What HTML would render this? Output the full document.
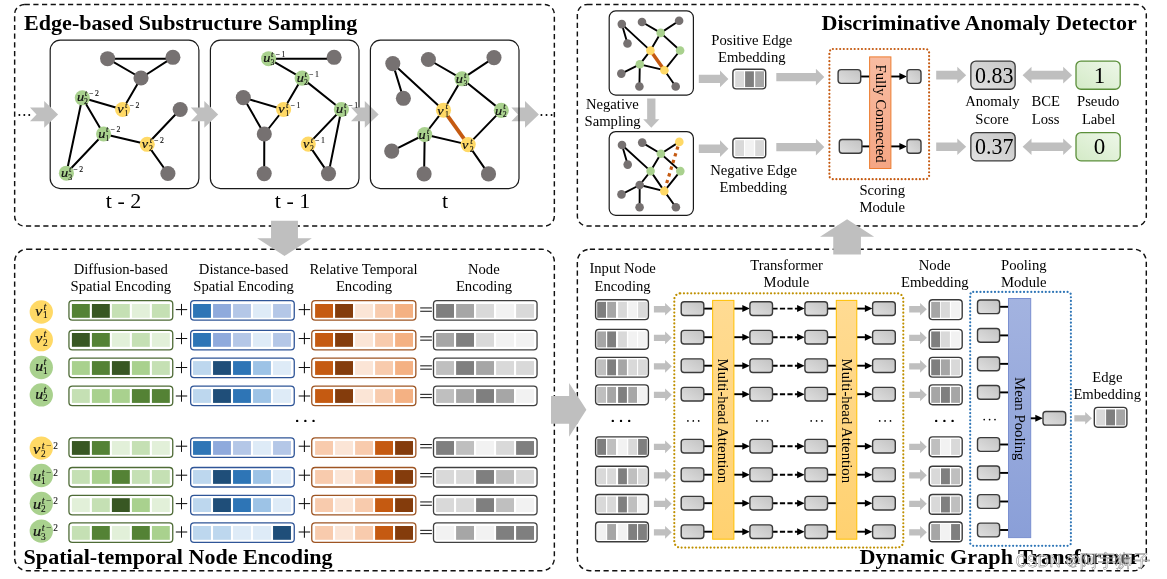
<!DOCTYPE html>
<html lang="en"><head><meta charset="utf-8"><title>Framework overview</title>
<style>html,body{margin:0;padding:0;background:#fff;}body{width:1167px;height:579px;overflow:hidden;}svg{display:block;font-family:'Liberation Serif', 'Noto Serif CJK SC', serif;}</style></head><body>
<svg width="1167" height="579" viewBox="0 0 1167 579">
<defs><linearGradient id="gbox" x1="0" y1="1" x2="1" y2="0"><stop offset="0" stop-color="#E0E0E0"/><stop offset="1" stop-color="#C2C2C2"/></linearGradient><linearGradient id="gscore" x1="0" y1="1" x2="1" y2="0"><stop offset="0" stop-color="#E2E2E2"/><stop offset="1" stop-color="#C6C6C6"/></linearGradient><linearGradient id="glabel" x1="0" y1="1" x2="1" y2="0"><stop offset="0" stop-color="#D3EAC6"/><stop offset="1" stop-color="#EEF7E9"/></linearGradient><linearGradient id="gyel" x1="0" y1="0" x2="0" y2="1"><stop offset="0" stop-color="#FFDB93"/><stop offset="1" stop-color="#FFD170"/></linearGradient><linearGradient id="gblue" x1="0" y1="0" x2="0" y2="1"><stop offset="0" stop-color="#A3B3E0"/><stop offset="1" stop-color="#8A9FD8"/></linearGradient><linearGradient id="gfc" x1="0" y1="0" x2="0" y2="1"><stop offset="0" stop-color="#F8BCA2"/><stop offset="1" stop-color="#F5A684"/></linearGradient></defs>
<rect x="0" y="0" width="1167" height="579" fill="#fff" />
<rect x="14.65" y="4.4" width="539.7" height="221.7" rx="10" ry="10" fill="none" stroke="#111" stroke-width="1.45" stroke-dasharray="5.2 3.47"/>
<rect x="577.35" y="4.4" width="568.95" height="221.7" rx="10" ry="10" fill="none" stroke="#111" stroke-width="1.45" stroke-dasharray="5.2 3.47"/>
<rect x="14.65" y="249.2" width="539.7" height="321.5" rx="12.5" ry="12.5" fill="none" stroke="#111" stroke-width="1.45" stroke-dasharray="5.2 3.47"/>
<rect x="577.35" y="249.2" width="568.95" height="321.5" rx="12.5" ry="12.5" fill="none" stroke="#111" stroke-width="1.45" stroke-dasharray="5.2 3.47"/>
<polygon points="271.05,220.7 297.95,220.7 297.95,238.2 311.85,238.2 284.5,255.9 257.15,238.2 271.05,238.2" fill="#BFBFBF"/>
<polygon points="551,395.95 569.1,395.95 569.1,382.9 586.4,409.8 569.1,436.7 569.1,423.65 551,423.65" fill="#BFBFBF"/>
<polygon points="833.25,254.5 860.95,254.5 860.95,236.8 874.15,236.8 847.1,219.3 820.05,236.8 833.25,236.8" fill="#BFBFBF"/>
<text x="24.1" y="29.6" font-size="22" font-weight="bold" fill="#000" textLength="333.1" lengthAdjust="spacingAndGlyphs">Edge-based Substructure Sampling</text>
<rect x="50.2" y="40.2" width="148.7" height="148.4" rx="10" ry="10" fill="#fff" stroke="#1a1a1a" stroke-width="1.2" />
<rect x="210.4" y="40.2" width="148.6" height="148.4" rx="10" ry="10" fill="#fff" stroke="#1a1a1a" stroke-width="1.2" />
<line x1="107.6" y1="58.7" x2="141" y2="78" stroke="#000" stroke-width="2" stroke-linecap="round"/>
<line x1="172.9" y1="57.3" x2="141" y2="78" stroke="#000" stroke-width="2" stroke-linecap="round"/>
<line x1="141" y1="78" x2="122.6" y2="109.5" stroke="#000" stroke-width="2" stroke-linecap="round"/>
<line x1="82.3" y1="97.8" x2="122.6" y2="109.5" stroke="#000" stroke-width="2" stroke-linecap="round"/>
<line x1="82.3" y1="97.8" x2="103.6" y2="134" stroke="#000" stroke-width="2" stroke-linecap="round"/>
<line x1="82.3" y1="97.8" x2="66.4" y2="173.2" stroke="#000" stroke-width="2" stroke-linecap="round"/>
<line x1="103.6" y1="134" x2="66.4" y2="173.2" stroke="#000" stroke-width="2" stroke-linecap="round"/>
<line x1="103.6" y1="134" x2="147.2" y2="144.3" stroke="#000" stroke-width="2" stroke-linecap="round"/>
<line x1="147.2" y1="144.3" x2="180.2" y2="109.5" stroke="#000" stroke-width="2" stroke-linecap="round"/>
<line x1="147.2" y1="144.3" x2="167.9" y2="173.5" stroke="#000" stroke-width="2" stroke-linecap="round"/>
<line x1="107.6" y1="58.65" x2="172.9" y2="58.65" stroke="#000" stroke-width="2" />
<circle cx="107.6" cy="58.7" r="7.55" fill="#767171"/>
<circle cx="172.9" cy="57.3" r="7.55" fill="#767171"/>
<circle cx="141" cy="78" r="7.55" fill="#767171"/>
<circle cx="82.3" cy="97.8" r="7.55" fill="#A9D18E"/>
<circle cx="122.6" cy="109.5" r="7.55" fill="#FFD966"/>
<circle cx="180.2" cy="109.5" r="7.55" fill="#767171"/>
<circle cx="103.6" cy="134" r="7.55" fill="#A9D18E"/>
<circle cx="147.2" cy="144.3" r="7.55" fill="#FFD966"/>
<circle cx="66.4" cy="173.2" r="7.55" fill="#A9D18E"/>
<circle cx="167.9" cy="173.5" r="7.55" fill="#767171"/>
<line x1="268.6" y1="58.7" x2="302.1" y2="78.1" stroke="#000" stroke-width="2" stroke-linecap="round"/>
<line x1="302.1" y1="78.1" x2="283.6" y2="109.5" stroke="#000" stroke-width="2" stroke-linecap="round"/>
<line x1="302.1" y1="78.1" x2="341.4" y2="109.5" stroke="#000" stroke-width="2" stroke-linecap="round"/>
<line x1="243.3" y1="97.6" x2="283.6" y2="109.5" stroke="#000" stroke-width="2" stroke-linecap="round"/>
<line x1="243.3" y1="97.6" x2="264.3" y2="134" stroke="#000" stroke-width="2" stroke-linecap="round"/>
<line x1="283.6" y1="109.5" x2="264.3" y2="134" stroke="#000" stroke-width="2" stroke-linecap="round"/>
<line x1="264.3" y1="134" x2="264.2" y2="173.6" stroke="#000" stroke-width="2" stroke-linecap="round"/>
<line x1="341.4" y1="109.5" x2="308.3" y2="144.1" stroke="#000" stroke-width="2" stroke-linecap="round"/>
<line x1="341.4" y1="109.5" x2="328.5" y2="173.6" stroke="#000" stroke-width="2" stroke-linecap="round"/>
<line x1="308.3" y1="144.1" x2="328.5" y2="173.6" stroke="#000" stroke-width="2" stroke-linecap="round"/>
<line x1="268.6" y1="58.7" x2="334.1" y2="58.7" stroke="#000" stroke-width="2" />
<circle cx="268.6" cy="58.7" r="7.55" fill="#A9D18E"/>
<circle cx="334.1" cy="57.3" r="7.55" fill="#767171"/>
<circle cx="302.1" cy="78.1" r="7.55" fill="#A9D18E"/>
<circle cx="243.3" cy="97.6" r="7.55" fill="#767171"/>
<circle cx="283.6" cy="109.5" r="7.55" fill="#FFD966"/>
<circle cx="341.4" cy="109.5" r="7.55" fill="#A9D18E"/>
<circle cx="264.3" cy="134" r="7.55" fill="#767171"/>
<circle cx="308.3" cy="144.1" r="7.55" fill="#FFD966"/>
<circle cx="264.2" cy="173.6" r="7.55" fill="#767171"/>
<circle cx="328.5" cy="173.6" r="7.55" fill="#767171"/>
<line x1="392.8" y1="63.6" x2="403.4" y2="98.3" stroke="#000" stroke-width="2" stroke-linecap="round"/>
<line x1="392.8" y1="63.6" x2="443.5" y2="110.2" stroke="#000" stroke-width="2" stroke-linecap="round"/>
<line x1="428.4" y1="59.5" x2="462" y2="78.8" stroke="#000" stroke-width="2" stroke-linecap="round"/>
<line x1="494" y1="57.6" x2="462" y2="78.8" stroke="#000" stroke-width="2" stroke-linecap="round"/>
<line x1="462" y1="78.8" x2="443.5" y2="110.2" stroke="#000" stroke-width="2" stroke-linecap="round"/>
<line x1="462" y1="78.8" x2="501.3" y2="110.4" stroke="#000" stroke-width="2" stroke-linecap="round"/>
<line x1="443.5" y1="110.2" x2="424.7" y2="134.5" stroke="#000" stroke-width="2" stroke-linecap="round"/>
<line x1="501.3" y1="110.4" x2="468.2" y2="144.6" stroke="#000" stroke-width="2" stroke-linecap="round"/>
<line x1="424.7" y1="134.5" x2="468.2" y2="144.6" stroke="#000" stroke-width="2" stroke-linecap="round"/>
<line x1="424.7" y1="134.5" x2="391.7" y2="151.1" stroke="#000" stroke-width="2" stroke-linecap="round"/>
<line x1="424.7" y1="134.5" x2="424.1" y2="173.9" stroke="#000" stroke-width="2" stroke-linecap="round"/>
<line x1="468.2" y1="144.6" x2="488.5" y2="173.9" stroke="#000" stroke-width="2" stroke-linecap="round"/>
<line x1="443.5" y1="110.2" x2="468.2" y2="144.6" stroke="#C55A11" stroke-width="3.8" />
<circle cx="392.8" cy="63.6" r="7.55" fill="#767171"/>
<circle cx="428.4" cy="59.5" r="7.55" fill="#767171"/>
<circle cx="494" cy="57.6" r="7.55" fill="#767171"/>
<circle cx="462" cy="78.8" r="7.55" fill="#A9D18E"/>
<circle cx="403.4" cy="98.3" r="7.55" fill="#767171"/>
<circle cx="443.5" cy="110.2" r="7.55" fill="#FFD966"/>
<circle cx="501.3" cy="110.4" r="7.55" fill="#A9D18E"/>
<circle cx="424.7" cy="134.5" r="7.55" fill="#A9D18E"/>
<circle cx="468.2" cy="144.6" r="7.55" fill="#FFD966"/>
<circle cx="391.7" cy="151.1" r="7.55" fill="#767171"/>
<circle cx="424.1" cy="173.9" r="7.55" fill="#767171"/>
<circle cx="488.5" cy="173.9" r="7.55" fill="#767171"/>
<polygon points="30,107.5 44.2,107.5 44.2,101 58.1,114.4 44.2,127.8 44.2,121.3 30,121.3 36.5,114.4" fill="#BFBFBF"/>
<polygon points="190.8,107.5 204.3,107.5 204.3,101 218.2,114.4 204.3,127.8 204.3,121.3 190.8,121.3 197.3,114.4" fill="#BFBFBF"/>
<polygon points="351,107.5 364.8,107.5 364.8,101 378.7,114.4 364.8,127.8 364.8,121.3 351,121.3 357.5,114.4" fill="#BFBFBF"/>
<polygon points="511.4,107.5 525,107.5 525,101 538.9,114.4 525,127.8 525,121.3 511.4,121.3 517.9,114.4" fill="#BFBFBF"/>
<rect x="370.4" y="40.2" width="148.6" height="148.4" rx="10" ry="10" fill="none" stroke="#1a1a1a" stroke-width="1.2" />
<circle cx="19.35" cy="115" r="1" fill="#000"/>
<circle cx="24.3" cy="115" r="1" fill="#000"/>
<circle cx="29.25" cy="115" r="1" fill="#000"/>
<circle cx="541.45" cy="115" r="1" fill="#000"/>
<circle cx="546.5" cy="115" r="1" fill="#000"/>
<circle cx="551.55" cy="115" r="1" fill="#000"/>
<text x="76.9" y="101.3" font-size="12.8" font-style="italic" fill="#111" stroke="#111" stroke-width="0.22" textLength="7.17" lengthAdjust="spacingAndGlyphs">u</text>
<text x="84.8" y="96.2" font-size="8.6" font-style="italic" fill="#111" stroke="#111" stroke-width="0.12">t</text>
<text x="89.1" y="96.2" font-size="7.8" font-style="normal" fill="#111" stroke="#111" stroke-width="0.12">−</text>
<text x="95.1" y="96.2" font-size="7.8" font-style="normal" fill="#111" stroke="#111" stroke-width="0.12">2</text>
<text x="84.1" y="104.3" font-size="7.8" font-style="normal" fill="#111" stroke="#111" stroke-width="0.12">2</text>
<text x="117.2" y="113" font-size="12.8" font-style="italic" fill="#111" stroke="#111" stroke-width="0.22" textLength="6.37" lengthAdjust="spacingAndGlyphs">v</text>
<text x="125.1" y="107.9" font-size="8.6" font-style="italic" fill="#111" stroke="#111" stroke-width="0.12">t</text>
<text x="129.4" y="107.9" font-size="7.8" font-style="normal" fill="#111" stroke="#111" stroke-width="0.12">−</text>
<text x="135.4" y="107.9" font-size="7.8" font-style="normal" fill="#111" stroke="#111" stroke-width="0.12">2</text>
<text x="124.4" y="116" font-size="7.8" font-style="normal" fill="#111" stroke="#111" stroke-width="0.12">1</text>
<text x="98.2" y="137.5" font-size="12.8" font-style="italic" fill="#111" stroke="#111" stroke-width="0.22" textLength="7.17" lengthAdjust="spacingAndGlyphs">u</text>
<text x="106.1" y="132.4" font-size="8.6" font-style="italic" fill="#111" stroke="#111" stroke-width="0.12">t</text>
<text x="110.4" y="132.4" font-size="7.8" font-style="normal" fill="#111" stroke="#111" stroke-width="0.12">−</text>
<text x="116.4" y="132.4" font-size="7.8" font-style="normal" fill="#111" stroke="#111" stroke-width="0.12">2</text>
<text x="105.4" y="140.5" font-size="7.8" font-style="normal" fill="#111" stroke="#111" stroke-width="0.12">1</text>
<text x="141.8" y="147.8" font-size="12.8" font-style="italic" fill="#111" stroke="#111" stroke-width="0.22" textLength="6.37" lengthAdjust="spacingAndGlyphs">v</text>
<text x="149.7" y="142.7" font-size="8.6" font-style="italic" fill="#111" stroke="#111" stroke-width="0.12">t</text>
<text x="154" y="142.7" font-size="7.8" font-style="normal" fill="#111" stroke="#111" stroke-width="0.12">−</text>
<text x="160" y="142.7" font-size="7.8" font-style="normal" fill="#111" stroke="#111" stroke-width="0.12">2</text>
<text x="149" y="150.8" font-size="7.8" font-style="normal" fill="#111" stroke="#111" stroke-width="0.12">2</text>
<text x="61" y="176.7" font-size="12.8" font-style="italic" fill="#111" stroke="#111" stroke-width="0.22" textLength="7.17" lengthAdjust="spacingAndGlyphs">u</text>
<text x="68.9" y="171.6" font-size="8.6" font-style="italic" fill="#111" stroke="#111" stroke-width="0.12">t</text>
<text x="73.2" y="171.6" font-size="7.8" font-style="normal" fill="#111" stroke="#111" stroke-width="0.12">−</text>
<text x="79.2" y="171.6" font-size="7.8" font-style="normal" fill="#111" stroke="#111" stroke-width="0.12">2</text>
<text x="68.2" y="179.7" font-size="7.8" font-style="normal" fill="#111" stroke="#111" stroke-width="0.12">3</text>
<text x="263.2" y="62.2" font-size="12.8" font-style="italic" fill="#111" stroke="#111" stroke-width="0.22" textLength="7.17" lengthAdjust="spacingAndGlyphs">u</text>
<text x="271.1" y="57.1" font-size="8.6" font-style="italic" fill="#111" stroke="#111" stroke-width="0.12">t</text>
<text x="275.4" y="57.1" font-size="7.8" font-style="normal" fill="#111" stroke="#111" stroke-width="0.12">−</text>
<text x="281.4" y="57.1" font-size="7.8" font-style="normal" fill="#111" stroke="#111" stroke-width="0.12">1</text>
<text x="270.4" y="65.2" font-size="7.8" font-style="normal" fill="#111" stroke="#111" stroke-width="0.12">3</text>
<text x="296.7" y="81.6" font-size="12.8" font-style="italic" fill="#111" stroke="#111" stroke-width="0.22" textLength="7.17" lengthAdjust="spacingAndGlyphs">u</text>
<text x="304.6" y="76.5" font-size="8.6" font-style="italic" fill="#111" stroke="#111" stroke-width="0.12">t</text>
<text x="308.9" y="76.5" font-size="7.8" font-style="normal" fill="#111" stroke="#111" stroke-width="0.12">−</text>
<text x="314.9" y="76.5" font-size="7.8" font-style="normal" fill="#111" stroke="#111" stroke-width="0.12">1</text>
<text x="303.9" y="84.6" font-size="7.8" font-style="normal" fill="#111" stroke="#111" stroke-width="0.12">2</text>
<text x="278.2" y="113" font-size="12.8" font-style="italic" fill="#111" stroke="#111" stroke-width="0.22" textLength="6.37" lengthAdjust="spacingAndGlyphs">v</text>
<text x="286.1" y="107.9" font-size="8.6" font-style="italic" fill="#111" stroke="#111" stroke-width="0.12">t</text>
<text x="290.4" y="107.9" font-size="7.8" font-style="normal" fill="#111" stroke="#111" stroke-width="0.12">−</text>
<text x="296.4" y="107.9" font-size="7.8" font-style="normal" fill="#111" stroke="#111" stroke-width="0.12">1</text>
<text x="285.4" y="116" font-size="7.8" font-style="normal" fill="#111" stroke="#111" stroke-width="0.12">1</text>
<text x="336" y="113" font-size="12.8" font-style="italic" fill="#111" stroke="#111" stroke-width="0.22" textLength="7.17" lengthAdjust="spacingAndGlyphs">u</text>
<text x="343.9" y="107.9" font-size="8.6" font-style="italic" fill="#111" stroke="#111" stroke-width="0.12">t</text>
<text x="348.2" y="107.9" font-size="7.8" font-style="normal" fill="#111" stroke="#111" stroke-width="0.12">−</text>
<text x="354.2" y="107.9" font-size="7.8" font-style="normal" fill="#111" stroke="#111" stroke-width="0.12">1</text>
<text x="343.2" y="116" font-size="7.8" font-style="normal" fill="#111" stroke="#111" stroke-width="0.12">1</text>
<text x="302.9" y="147.6" font-size="12.8" font-style="italic" fill="#111" stroke="#111" stroke-width="0.22" textLength="6.37" lengthAdjust="spacingAndGlyphs">v</text>
<text x="310.8" y="142.5" font-size="8.6" font-style="italic" fill="#111" stroke="#111" stroke-width="0.12">t</text>
<text x="315.1" y="142.5" font-size="7.8" font-style="normal" fill="#111" stroke="#111" stroke-width="0.12">−</text>
<text x="321.1" y="142.5" font-size="7.8" font-style="normal" fill="#111" stroke="#111" stroke-width="0.12">1</text>
<text x="310.1" y="150.6" font-size="7.8" font-style="normal" fill="#111" stroke="#111" stroke-width="0.12">2</text>
<text x="455.7" y="83.3" font-size="12.8" font-style="italic" fill="#111" stroke="#111" stroke-width="0.22" textLength="7.17" lengthAdjust="spacingAndGlyphs">u</text>
<text x="464" y="77.8" font-size="8.6" font-style="italic" fill="#111" stroke="#111" stroke-width="0.12">t</text>
<text x="463.5" y="85.7" font-size="7.8" font-style="normal" fill="#111" stroke="#111" stroke-width="0.12">3</text>
<text x="437.2" y="114.7" font-size="12.8" font-style="italic" fill="#111" stroke="#111" stroke-width="0.22" textLength="6.37" lengthAdjust="spacingAndGlyphs">v</text>
<text x="445.5" y="109.2" font-size="8.6" font-style="italic" fill="#111" stroke="#111" stroke-width="0.12">t</text>
<text x="445" y="117.1" font-size="7.8" font-style="normal" fill="#111" stroke="#111" stroke-width="0.12">1</text>
<text x="495" y="114.9" font-size="12.8" font-style="italic" fill="#111" stroke="#111" stroke-width="0.22" textLength="7.17" lengthAdjust="spacingAndGlyphs">u</text>
<text x="503.3" y="109.4" font-size="8.6" font-style="italic" fill="#111" stroke="#111" stroke-width="0.12">t</text>
<text x="502.8" y="117.3" font-size="7.8" font-style="normal" fill="#111" stroke="#111" stroke-width="0.12">2</text>
<text x="418.4" y="139" font-size="12.8" font-style="italic" fill="#111" stroke="#111" stroke-width="0.22" textLength="7.17" lengthAdjust="spacingAndGlyphs">u</text>
<text x="426.7" y="133.5" font-size="8.6" font-style="italic" fill="#111" stroke="#111" stroke-width="0.12">t</text>
<text x="426.2" y="141.4" font-size="7.8" font-style="normal" fill="#111" stroke="#111" stroke-width="0.12">1</text>
<text x="461.9" y="149.1" font-size="12.8" font-style="italic" fill="#111" stroke="#111" stroke-width="0.22" textLength="6.37" lengthAdjust="spacingAndGlyphs">v</text>
<text x="470.2" y="143.6" font-size="8.6" font-style="italic" fill="#111" stroke="#111" stroke-width="0.12">t</text>
<text x="469.7" y="151.5" font-size="7.8" font-style="normal" fill="#111" stroke="#111" stroke-width="0.12">2</text>
<text x="123.6" y="207.8" font-size="22" text-anchor="middle" font-weight="normal" font-style="normal" fill="#000" >t - 2</text>
<text x="292.5" y="207.8" font-size="22" text-anchor="middle" font-weight="normal" font-style="normal" fill="#000" >t - 1</text>
<text x="445" y="207.8" font-size="22" text-anchor="middle" font-weight="normal" font-style="normal" fill="#000" >t</text>
<text x="23.6" y="563.8" font-size="22" font-weight="bold" fill="#000" textLength="309" lengthAdjust="spacingAndGlyphs">Spatial-temporal Node Encoding</text>
<text x="120.8" y="273.6" font-size="14.67" text-anchor="middle" font-weight="normal" font-style="normal" fill="#000" >Diffusion-based</text>
<text x="120.8" y="291" font-size="14.67" text-anchor="middle" font-weight="normal" font-style="normal" fill="#000" >Spatial Encoding</text>
<text x="243.6" y="273.6" font-size="14.67" text-anchor="middle" font-weight="normal" font-style="normal" fill="#000" >Distance-based</text>
<text x="243.6" y="291" font-size="14.67" text-anchor="middle" font-weight="normal" font-style="normal" fill="#000" >Spatial Encoding</text>
<text x="363.6" y="273.6" font-size="14.67" text-anchor="middle" font-weight="normal" font-style="normal" fill="#000" >Relative Temporal</text>
<text x="364" y="291" font-size="14.67" text-anchor="middle" font-weight="normal" font-style="normal" fill="#000" >Encoding</text>
<text x="483.8" y="273.6" font-size="14.67" text-anchor="middle" font-weight="normal" font-style="normal" fill="#000" >Node</text>
<text x="484" y="291" font-size="14.67" text-anchor="middle" font-weight="normal" font-style="normal" fill="#000" >Encoding</text>
<circle cx="41.3" cy="312" r="11.65" fill="#FFD966"/>
<text x="35.3" y="315.6" font-size="14.2" font-style="italic" fill="#111" stroke="#111" stroke-width="0.22" textLength="7.06" lengthAdjust="spacingAndGlyphs">v</text>
<text x="43.5" y="309.7" font-size="10.4" font-style="italic" fill="#111" stroke="#111" stroke-width="0.12">t</text>
<text x="43" y="318.3" font-size="9.3" font-style="normal" fill="#111" stroke="#111" stroke-width="0.12">1</text>
<rect x="68.95" y="300.7" width="103.8" height="19.5" rx="3.4" ry="3.4" fill="#fff" stroke="#4E6B36" stroke-width="1.3" />
<rect x="71.9" y="304" width="17.9" height="13.8" fill="#548235" />
<rect x="91.9" y="304" width="17.9" height="13.8" fill="#385723" />
<rect x="111.9" y="304" width="17.9" height="13.8" fill="#C5E0B4" />
<rect x="131.9" y="304" width="17.9" height="13.8" fill="#E2F0D9" />
<rect x="151.9" y="304" width="17.9" height="13.8" fill="#C5E0B4" />
<line x1="175.8" y1="309.6" x2="187.2" y2="309.6" stroke="#111" stroke-width="1.05" />
<line x1="181.5" y1="303.9" x2="181.5" y2="315.3" stroke="#111" stroke-width="1.05" />
<rect x="190.65" y="300.7" width="103.6" height="19.5" rx="3.4" ry="3.4" fill="#fff" stroke="#2F5597" stroke-width="1.3" />
<rect x="193.05" y="304" width="17.9" height="13.8" fill="#2E75B6" />
<rect x="213.05" y="304" width="17.9" height="13.8" fill="#8FAADC" />
<rect x="233.05" y="304" width="17.9" height="13.8" fill="#B4C7E7" />
<rect x="253.05" y="304" width="17.9" height="13.8" fill="#DEEBF7" />
<rect x="273.05" y="304" width="17.9" height="13.8" fill="#B4C7E7" />
<line x1="298.7" y1="309.6" x2="310.1" y2="309.6" stroke="#111" stroke-width="1.05" />
<line x1="304.4" y1="303.9" x2="304.4" y2="315.3" stroke="#111" stroke-width="1.05" />
<rect x="311.75" y="300.7" width="104.1" height="19.5" rx="3.4" ry="3.4" fill="#fff" stroke="#9E5523" stroke-width="1.3" />
<rect x="315.1" y="304" width="17.9" height="13.8" fill="#C55A11" />
<rect x="335.1" y="304" width="17.9" height="13.8" fill="#843C0C" />
<rect x="355.1" y="304" width="17.9" height="13.8" fill="#FBE5D6" />
<rect x="375.1" y="304" width="17.9" height="13.8" fill="#F8CBAD" />
<rect x="395.1" y="304" width="17.9" height="13.8" fill="#F4B183" />
<line x1="420.2" y1="307.95" x2="431.9" y2="307.95" stroke="#111" stroke-width="1" />
<line x1="420.2" y1="311.25" x2="431.9" y2="311.25" stroke="#111" stroke-width="1" />
<rect x="433.5" y="300.7" width="103.55" height="19.5" rx="3.4" ry="3.4" fill="#fff" stroke="#404040" stroke-width="1.3" />
<rect x="436.1" y="304" width="17.9" height="13.8" fill="#7F7F7F" />
<rect x="456.1" y="304" width="17.9" height="13.8" fill="#A6A6A6" />
<rect x="476.1" y="304" width="17.9" height="13.8" fill="#D9D9D9" />
<rect x="496.1" y="304" width="17.9" height="13.8" fill="#F2F2F2" />
<rect x="516.1" y="304" width="17.9" height="13.8" fill="#D9D9D9" />
<circle cx="41.3" cy="339.7" r="11.65" fill="#FFD966"/>
<text x="35.3" y="343.3" font-size="14.2" font-style="italic" fill="#111" stroke="#111" stroke-width="0.22" textLength="7.06" lengthAdjust="spacingAndGlyphs">v</text>
<text x="43.5" y="337.4" font-size="10.4" font-style="italic" fill="#111" stroke="#111" stroke-width="0.12">t</text>
<text x="43" y="346" font-size="9.3" font-style="normal" fill="#111" stroke="#111" stroke-width="0.12">2</text>
<rect x="68.95" y="330.4" width="103.8" height="19.5" rx="3.4" ry="3.4" fill="#fff" stroke="#4E6B36" stroke-width="1.3" />
<rect x="71.9" y="333" width="17.9" height="13.8" fill="#385723" />
<rect x="91.9" y="333" width="17.9" height="13.8" fill="#548235" />
<rect x="111.9" y="333" width="17.9" height="13.8" fill="#E2F0D9" />
<rect x="131.9" y="333" width="17.9" height="13.8" fill="#C5E0B4" />
<rect x="151.9" y="333" width="17.9" height="13.8" fill="#E2F0D9" />
<line x1="175.8" y1="338.5" x2="187.2" y2="338.5" stroke="#111" stroke-width="1.05" />
<line x1="181.5" y1="332.8" x2="181.5" y2="344.2" stroke="#111" stroke-width="1.05" />
<rect x="190.65" y="330.4" width="103.6" height="19.5" rx="3.4" ry="3.4" fill="#fff" stroke="#2F5597" stroke-width="1.3" />
<rect x="193.05" y="333" width="17.9" height="13.8" fill="#2E75B6" />
<rect x="213.05" y="333" width="17.9" height="13.8" fill="#8FAADC" />
<rect x="233.05" y="333" width="17.9" height="13.8" fill="#B4C7E7" />
<rect x="253.05" y="333" width="17.9" height="13.8" fill="#DEEBF7" />
<rect x="273.05" y="333" width="17.9" height="13.8" fill="#B4C7E7" />
<line x1="298.7" y1="338.5" x2="310.1" y2="338.5" stroke="#111" stroke-width="1.05" />
<line x1="304.4" y1="332.8" x2="304.4" y2="344.2" stroke="#111" stroke-width="1.05" />
<rect x="311.75" y="330.4" width="104.1" height="19.5" rx="3.4" ry="3.4" fill="#fff" stroke="#9E5523" stroke-width="1.3" />
<rect x="315.1" y="333" width="17.9" height="13.8" fill="#C55A11" />
<rect x="335.1" y="333" width="17.9" height="13.8" fill="#843C0C" />
<rect x="355.1" y="333" width="17.9" height="13.8" fill="#FBE5D6" />
<rect x="375.1" y="333" width="17.9" height="13.8" fill="#F8CBAD" />
<rect x="395.1" y="333" width="17.9" height="13.8" fill="#F4B183" />
<line x1="420.2" y1="336.85" x2="431.9" y2="336.85" stroke="#111" stroke-width="1" />
<line x1="420.2" y1="340.15" x2="431.9" y2="340.15" stroke="#111" stroke-width="1" />
<rect x="433.5" y="330.4" width="103.55" height="19.5" rx="3.4" ry="3.4" fill="#fff" stroke="#404040" stroke-width="1.3" />
<rect x="436.1" y="333" width="17.9" height="13.8" fill="#A6A6A6" />
<rect x="456.1" y="333" width="17.9" height="13.8" fill="#7F7F7F" />
<rect x="476.1" y="333" width="17.9" height="13.8" fill="#D9D9D9" />
<rect x="496.1" y="333" width="17.9" height="13.8" fill="#F2F2F2" />
<rect x="516.1" y="333" width="17.9" height="13.8" fill="#F2F2F2" />
<circle cx="41.3" cy="367.5" r="11.65" fill="#A9D18E"/>
<text x="35.3" y="371.1" font-size="14.2" font-style="italic" fill="#111" stroke="#111" stroke-width="0.22" textLength="7.95" lengthAdjust="spacingAndGlyphs">u</text>
<text x="43.5" y="365.2" font-size="10.4" font-style="italic" fill="#111" stroke="#111" stroke-width="0.12">t</text>
<text x="43" y="373.8" font-size="9.3" font-style="normal" fill="#111" stroke="#111" stroke-width="0.12">1</text>
<rect x="68.95" y="358.2" width="103.8" height="19.5" rx="3.4" ry="3.4" fill="#fff" stroke="#4E6B36" stroke-width="1.3" />
<rect x="71.9" y="361.1" width="17.9" height="13.8" fill="#A9D18E" />
<rect x="91.9" y="361.1" width="17.9" height="13.8" fill="#548235" />
<rect x="111.9" y="361.1" width="17.9" height="13.8" fill="#385723" />
<rect x="131.9" y="361.1" width="17.9" height="13.8" fill="#A9D18E" />
<rect x="151.9" y="361.1" width="17.9" height="13.8" fill="#C5E0B4" />
<line x1="175.8" y1="367.5" x2="187.2" y2="367.5" stroke="#111" stroke-width="1.05" />
<line x1="181.5" y1="361.8" x2="181.5" y2="373.2" stroke="#111" stroke-width="1.05" />
<rect x="190.65" y="358.2" width="103.6" height="19.5" rx="3.4" ry="3.4" fill="#fff" stroke="#2F5597" stroke-width="1.3" />
<rect x="193.05" y="361.1" width="17.9" height="13.8" fill="#BDD7EE" />
<rect x="213.05" y="361.1" width="17.9" height="13.8" fill="#1F4E79" />
<rect x="233.05" y="361.1" width="17.9" height="13.8" fill="#2E75B6" />
<rect x="253.05" y="361.1" width="17.9" height="13.8" fill="#9DC3E6" />
<rect x="273.05" y="361.1" width="17.9" height="13.8" fill="#DEEBF7" />
<line x1="298.7" y1="367.5" x2="310.1" y2="367.5" stroke="#111" stroke-width="1.05" />
<line x1="304.4" y1="361.8" x2="304.4" y2="373.2" stroke="#111" stroke-width="1.05" />
<rect x="311.75" y="358.2" width="104.1" height="19.5" rx="3.4" ry="3.4" fill="#fff" stroke="#9E5523" stroke-width="1.3" />
<rect x="315.1" y="361.1" width="17.9" height="13.8" fill="#C55A11" />
<rect x="335.1" y="361.1" width="17.9" height="13.8" fill="#843C0C" />
<rect x="355.1" y="361.1" width="17.9" height="13.8" fill="#FBE5D6" />
<rect x="375.1" y="361.1" width="17.9" height="13.8" fill="#F8CBAD" />
<rect x="395.1" y="361.1" width="17.9" height="13.8" fill="#F4B183" />
<line x1="420.2" y1="365.85" x2="431.9" y2="365.85" stroke="#111" stroke-width="1" />
<line x1="420.2" y1="369.15" x2="431.9" y2="369.15" stroke="#111" stroke-width="1" />
<rect x="433.5" y="358.2" width="103.55" height="19.5" rx="3.4" ry="3.4" fill="#fff" stroke="#404040" stroke-width="1.3" />
<rect x="436.1" y="361.1" width="17.9" height="13.8" fill="#BFBFBF" />
<rect x="456.1" y="361.1" width="17.9" height="13.8" fill="#7F7F7F" />
<rect x="476.1" y="361.1" width="17.9" height="13.8" fill="#A6A6A6" />
<rect x="496.1" y="361.1" width="17.9" height="13.8" fill="#D9D9D9" />
<rect x="516.1" y="361.1" width="17.9" height="13.8" fill="#D9D9D9" />
<circle cx="41.3" cy="394.9" r="11.65" fill="#A9D18E"/>
<text x="35.3" y="398.5" font-size="14.2" font-style="italic" fill="#111" stroke="#111" stroke-width="0.22" textLength="7.95" lengthAdjust="spacingAndGlyphs">u</text>
<text x="43.5" y="392.6" font-size="10.4" font-style="italic" fill="#111" stroke="#111" stroke-width="0.12">t</text>
<text x="43" y="401.2" font-size="9.3" font-style="normal" fill="#111" stroke="#111" stroke-width="0.12">2</text>
<rect x="68.95" y="386.2" width="103.8" height="19.5" rx="3.4" ry="3.4" fill="#fff" stroke="#4E6B36" stroke-width="1.3" />
<rect x="71.9" y="389.1" width="17.9" height="13.8" fill="#C5E0B4" />
<rect x="91.9" y="389.1" width="17.9" height="13.8" fill="#A9D18E" />
<rect x="111.9" y="389.1" width="17.9" height="13.8" fill="#A9D18E" />
<rect x="131.9" y="389.1" width="17.9" height="13.8" fill="#548235" />
<rect x="151.9" y="389.1" width="17.9" height="13.8" fill="#548235" />
<line x1="175.8" y1="396" x2="187.2" y2="396" stroke="#111" stroke-width="1.05" />
<line x1="181.5" y1="390.3" x2="181.5" y2="401.7" stroke="#111" stroke-width="1.05" />
<rect x="190.65" y="386.2" width="103.6" height="19.5" rx="3.4" ry="3.4" fill="#fff" stroke="#2F5597" stroke-width="1.3" />
<rect x="193.05" y="389.1" width="17.9" height="13.8" fill="#BDD7EE" />
<rect x="213.05" y="389.1" width="17.9" height="13.8" fill="#1F4E79" />
<rect x="233.05" y="389.1" width="17.9" height="13.8" fill="#2E75B6" />
<rect x="253.05" y="389.1" width="17.9" height="13.8" fill="#9DC3E6" />
<rect x="273.05" y="389.1" width="17.9" height="13.8" fill="#DEEBF7" />
<line x1="298.7" y1="396" x2="310.1" y2="396" stroke="#111" stroke-width="1.05" />
<line x1="304.4" y1="390.3" x2="304.4" y2="401.7" stroke="#111" stroke-width="1.05" />
<rect x="311.75" y="386.2" width="104.1" height="19.5" rx="3.4" ry="3.4" fill="#fff" stroke="#9E5523" stroke-width="1.3" />
<rect x="315.1" y="389.1" width="17.9" height="13.8" fill="#C55A11" />
<rect x="335.1" y="389.1" width="17.9" height="13.8" fill="#843C0C" />
<rect x="355.1" y="389.1" width="17.9" height="13.8" fill="#FBE5D6" />
<rect x="375.1" y="389.1" width="17.9" height="13.8" fill="#F8CBAD" />
<rect x="395.1" y="389.1" width="17.9" height="13.8" fill="#F4B183" />
<line x1="420.2" y1="394.35" x2="431.9" y2="394.35" stroke="#111" stroke-width="1" />
<line x1="420.2" y1="397.65" x2="431.9" y2="397.65" stroke="#111" stroke-width="1" />
<rect x="433.5" y="386.2" width="103.55" height="19.5" rx="3.4" ry="3.4" fill="#fff" stroke="#404040" stroke-width="1.3" />
<rect x="436.1" y="389.1" width="17.9" height="13.8" fill="#BFBFBF" />
<rect x="456.1" y="389.1" width="17.9" height="13.8" fill="#A6A6A6" />
<rect x="476.1" y="389.1" width="17.9" height="13.8" fill="#7F7F7F" />
<rect x="496.1" y="389.1" width="17.9" height="13.8" fill="#A6A6A6" />
<rect x="516.1" y="389.1" width="17.9" height="13.8" fill="#F2F2F2" />
<circle cx="41.3" cy="448.1" r="11.65" fill="#FFD966"/>
<text x="33" y="454.1" font-size="14.6" font-style="italic" fill="#111" stroke="#111" stroke-width="0.22" textLength="7.26" lengthAdjust="spacingAndGlyphs">v</text>
<text x="41.7" y="449.1" font-size="10.4" font-style="italic" fill="#111" stroke="#111" stroke-width="0.12">t</text>
<text x="46.1" y="449.1" font-size="9.4" font-style="normal" fill="#111" stroke="#111" stroke-width="0.12">−</text>
<text x="53.2" y="449.1" font-size="9.4" font-style="normal" fill="#111" stroke="#111" stroke-width="0.12">2</text>
<text x="40.9" y="457.4" font-size="9.4" font-style="normal" fill="#111" stroke="#111" stroke-width="0.12">2</text>
<rect x="68.95" y="437.85" width="103.8" height="19.5" rx="3.4" ry="3.4" fill="#fff" stroke="#4E6B36" stroke-width="1.3" />
<rect x="71.9" y="441.05" width="17.9" height="13.8" fill="#385723" />
<rect x="91.9" y="441.05" width="17.9" height="13.8" fill="#548235" />
<rect x="111.9" y="441.05" width="17.9" height="13.8" fill="#E2F0D9" />
<rect x="131.9" y="441.05" width="17.9" height="13.8" fill="#C5E0B4" />
<rect x="151.9" y="441.05" width="17.9" height="13.8" fill="#E2F0D9" />
<line x1="175.8" y1="446.2" x2="187.2" y2="446.2" stroke="#111" stroke-width="1.05" />
<line x1="181.5" y1="440.5" x2="181.5" y2="451.9" stroke="#111" stroke-width="1.05" />
<rect x="190.65" y="437.85" width="103.6" height="19.5" rx="3.4" ry="3.4" fill="#fff" stroke="#2F5597" stroke-width="1.3" />
<rect x="193.05" y="441.05" width="17.9" height="13.8" fill="#2E75B6" />
<rect x="213.05" y="441.05" width="17.9" height="13.8" fill="#8FAADC" />
<rect x="233.05" y="441.05" width="17.9" height="13.8" fill="#B4C7E7" />
<rect x="253.05" y="441.05" width="17.9" height="13.8" fill="#DEEBF7" />
<rect x="273.05" y="441.05" width="17.9" height="13.8" fill="#B4C7E7" />
<line x1="298.7" y1="446.2" x2="310.1" y2="446.2" stroke="#111" stroke-width="1.05" />
<line x1="304.4" y1="440.5" x2="304.4" y2="451.9" stroke="#111" stroke-width="1.05" />
<rect x="311.75" y="437.85" width="104.1" height="19.5" rx="3.4" ry="3.4" fill="#fff" stroke="#9E5523" stroke-width="1.3" />
<rect x="315.1" y="441.05" width="17.9" height="13.8" fill="#F8CBAD" />
<rect x="335.1" y="441.05" width="17.9" height="13.8" fill="#FBE5D6" />
<rect x="355.1" y="441.05" width="17.9" height="13.8" fill="#F8CBAD" />
<rect x="375.1" y="441.05" width="17.9" height="13.8" fill="#C55A11" />
<rect x="395.1" y="441.05" width="17.9" height="13.8" fill="#843C0C" />
<line x1="420.2" y1="444.55" x2="431.9" y2="444.55" stroke="#111" stroke-width="1" />
<line x1="420.2" y1="447.85" x2="431.9" y2="447.85" stroke="#111" stroke-width="1" />
<rect x="433.5" y="437.85" width="103.55" height="19.5" rx="3.4" ry="3.4" fill="#fff" stroke="#404040" stroke-width="1.3" />
<rect x="436.1" y="441.05" width="17.9" height="13.8" fill="#7F7F7F" />
<rect x="456.1" y="441.05" width="17.9" height="13.8" fill="#BFBFBF" />
<rect x="476.1" y="441.05" width="17.9" height="13.8" fill="#F2F2F2" />
<rect x="496.1" y="441.05" width="17.9" height="13.8" fill="#D9D9D9" />
<rect x="516.1" y="441.05" width="17.9" height="13.8" fill="#7F7F7F" />
<circle cx="41.3" cy="475.5" r="11.65" fill="#A9D18E"/>
<text x="33" y="480.8" font-size="14.6" font-style="italic" fill="#111" stroke="#111" stroke-width="0.22" textLength="8.18" lengthAdjust="spacingAndGlyphs">u</text>
<text x="41.7" y="475.8" font-size="10.4" font-style="italic" fill="#111" stroke="#111" stroke-width="0.12">t</text>
<text x="46.1" y="475.8" font-size="9.4" font-style="normal" fill="#111" stroke="#111" stroke-width="0.12">−</text>
<text x="53.2" y="475.8" font-size="9.4" font-style="normal" fill="#111" stroke="#111" stroke-width="0.12">2</text>
<text x="40.9" y="484.1" font-size="9.4" font-style="normal" fill="#111" stroke="#111" stroke-width="0.12">1</text>
<rect x="68.95" y="467.5" width="103.8" height="19.5" rx="3.4" ry="3.4" fill="#fff" stroke="#4E6B36" stroke-width="1.3" />
<rect x="71.9" y="470.05" width="17.9" height="13.8" fill="#C5E0B4" />
<rect x="91.9" y="470.05" width="17.9" height="13.8" fill="#A9D18E" />
<rect x="111.9" y="470.05" width="17.9" height="13.8" fill="#548235" />
<rect x="131.9" y="470.05" width="17.9" height="13.8" fill="#C5E0B4" />
<rect x="151.9" y="470.05" width="17.9" height="13.8" fill="#C5E0B4" />
<line x1="175.8" y1="475.2" x2="187.2" y2="475.2" stroke="#111" stroke-width="1.05" />
<line x1="181.5" y1="469.5" x2="181.5" y2="480.9" stroke="#111" stroke-width="1.05" />
<rect x="190.65" y="467.5" width="103.6" height="19.5" rx="3.4" ry="3.4" fill="#fff" stroke="#2F5597" stroke-width="1.3" />
<rect x="193.05" y="470.05" width="17.9" height="13.8" fill="#BDD7EE" />
<rect x="213.05" y="470.05" width="17.9" height="13.8" fill="#1F4E79" />
<rect x="233.05" y="470.05" width="17.9" height="13.8" fill="#2E75B6" />
<rect x="253.05" y="470.05" width="17.9" height="13.8" fill="#9DC3E6" />
<rect x="273.05" y="470.05" width="17.9" height="13.8" fill="#DEEBF7" />
<line x1="298.7" y1="475.2" x2="310.1" y2="475.2" stroke="#111" stroke-width="1.05" />
<line x1="304.4" y1="469.5" x2="304.4" y2="480.9" stroke="#111" stroke-width="1.05" />
<rect x="311.75" y="467.5" width="104.1" height="19.5" rx="3.4" ry="3.4" fill="#fff" stroke="#9E5523" stroke-width="1.3" />
<rect x="315.1" y="470.05" width="17.9" height="13.8" fill="#F8CBAD" />
<rect x="335.1" y="470.05" width="17.9" height="13.8" fill="#FBE5D6" />
<rect x="355.1" y="470.05" width="17.9" height="13.8" fill="#F8CBAD" />
<rect x="375.1" y="470.05" width="17.9" height="13.8" fill="#C55A11" />
<rect x="395.1" y="470.05" width="17.9" height="13.8" fill="#843C0C" />
<line x1="420.2" y1="473.55" x2="431.9" y2="473.55" stroke="#111" stroke-width="1" />
<line x1="420.2" y1="476.85" x2="431.9" y2="476.85" stroke="#111" stroke-width="1" />
<rect x="433.5" y="467.5" width="103.55" height="19.5" rx="3.4" ry="3.4" fill="#fff" stroke="#404040" stroke-width="1.3" />
<rect x="436.1" y="470.05" width="17.9" height="13.8" fill="#D9D9D9" />
<rect x="456.1" y="470.05" width="17.9" height="13.8" fill="#D9D9D9" />
<rect x="476.1" y="470.05" width="17.9" height="13.8" fill="#7F7F7F" />
<rect x="496.1" y="470.05" width="17.9" height="13.8" fill="#BFBFBF" />
<rect x="516.1" y="470.05" width="17.9" height="13.8" fill="#D9D9D9" />
<circle cx="41.3" cy="503.5" r="11.65" fill="#A9D18E"/>
<text x="33" y="508.8" font-size="14.6" font-style="italic" fill="#111" stroke="#111" stroke-width="0.22" textLength="8.18" lengthAdjust="spacingAndGlyphs">u</text>
<text x="41.7" y="503.8" font-size="10.4" font-style="italic" fill="#111" stroke="#111" stroke-width="0.12">t</text>
<text x="46.1" y="503.8" font-size="9.4" font-style="normal" fill="#111" stroke="#111" stroke-width="0.12">−</text>
<text x="53.2" y="503.8" font-size="9.4" font-style="normal" fill="#111" stroke="#111" stroke-width="0.12">2</text>
<text x="40.9" y="512.1" font-size="9.4" font-style="normal" fill="#111" stroke="#111" stroke-width="0.12">2</text>
<rect x="68.95" y="495.3" width="103.8" height="19.5" rx="3.4" ry="3.4" fill="#fff" stroke="#4E6B36" stroke-width="1.3" />
<rect x="71.9" y="498.2" width="17.9" height="13.8" fill="#E2F0D9" />
<rect x="91.9" y="498.2" width="17.9" height="13.8" fill="#C5E0B4" />
<rect x="111.9" y="498.2" width="17.9" height="13.8" fill="#385723" />
<rect x="131.9" y="498.2" width="17.9" height="13.8" fill="#A9D18E" />
<rect x="151.9" y="498.2" width="17.9" height="13.8" fill="#E2F0D9" />
<line x1="175.8" y1="503.6" x2="187.2" y2="503.6" stroke="#111" stroke-width="1.05" />
<line x1="181.5" y1="497.9" x2="181.5" y2="509.3" stroke="#111" stroke-width="1.05" />
<rect x="190.65" y="495.3" width="103.6" height="19.5" rx="3.4" ry="3.4" fill="#fff" stroke="#2F5597" stroke-width="1.3" />
<rect x="193.05" y="498.2" width="17.9" height="13.8" fill="#BDD7EE" />
<rect x="213.05" y="498.2" width="17.9" height="13.8" fill="#1F4E79" />
<rect x="233.05" y="498.2" width="17.9" height="13.8" fill="#2E75B6" />
<rect x="253.05" y="498.2" width="17.9" height="13.8" fill="#9DC3E6" />
<rect x="273.05" y="498.2" width="17.9" height="13.8" fill="#DEEBF7" />
<line x1="298.7" y1="503.6" x2="310.1" y2="503.6" stroke="#111" stroke-width="1.05" />
<line x1="304.4" y1="497.9" x2="304.4" y2="509.3" stroke="#111" stroke-width="1.05" />
<rect x="311.75" y="495.3" width="104.1" height="19.5" rx="3.4" ry="3.4" fill="#fff" stroke="#9E5523" stroke-width="1.3" />
<rect x="315.1" y="498.2" width="17.9" height="13.8" fill="#F8CBAD" />
<rect x="335.1" y="498.2" width="17.9" height="13.8" fill="#FBE5D6" />
<rect x="355.1" y="498.2" width="17.9" height="13.8" fill="#F8CBAD" />
<rect x="375.1" y="498.2" width="17.9" height="13.8" fill="#C55A11" />
<rect x="395.1" y="498.2" width="17.9" height="13.8" fill="#843C0C" />
<line x1="420.2" y1="501.95" x2="431.9" y2="501.95" stroke="#111" stroke-width="1" />
<line x1="420.2" y1="505.25" x2="431.9" y2="505.25" stroke="#111" stroke-width="1" />
<rect x="433.5" y="495.3" width="103.55" height="19.5" rx="3.4" ry="3.4" fill="#fff" stroke="#404040" stroke-width="1.3" />
<rect x="436.1" y="498.2" width="17.9" height="13.8" fill="#D9D9D9" />
<rect x="456.1" y="498.2" width="17.9" height="13.8" fill="#D9D9D9" />
<rect x="476.1" y="498.2" width="17.9" height="13.8" fill="#7F7F7F" />
<rect x="496.1" y="498.2" width="17.9" height="13.8" fill="#BFBFBF" />
<rect x="516.1" y="498.2" width="17.9" height="13.8" fill="#F2F2F2" />
<circle cx="41.3" cy="531.1" r="11.65" fill="#A9D18E"/>
<text x="33" y="536.4" font-size="14.6" font-style="italic" fill="#111" stroke="#111" stroke-width="0.22" textLength="8.18" lengthAdjust="spacingAndGlyphs">u</text>
<text x="41.7" y="531.4" font-size="10.4" font-style="italic" fill="#111" stroke="#111" stroke-width="0.12">t</text>
<text x="46.1" y="531.4" font-size="9.4" font-style="normal" fill="#111" stroke="#111" stroke-width="0.12">−</text>
<text x="53.2" y="531.4" font-size="9.4" font-style="normal" fill="#111" stroke="#111" stroke-width="0.12">2</text>
<text x="40.9" y="539.7" font-size="9.4" font-style="normal" fill="#111" stroke="#111" stroke-width="0.12">3</text>
<rect x="68.95" y="522.85" width="103.8" height="19.5" rx="3.4" ry="3.4" fill="#fff" stroke="#4E6B36" stroke-width="1.3" />
<rect x="71.9" y="526" width="17.9" height="13.8" fill="#C5E0B4" />
<rect x="91.9" y="526" width="17.9" height="13.8" fill="#548235" />
<rect x="111.9" y="526" width="17.9" height="13.8" fill="#E2F0D9" />
<rect x="131.9" y="526" width="17.9" height="13.8" fill="#548235" />
<rect x="151.9" y="526" width="17.9" height="13.8" fill="#A9D18E" />
<line x1="175.8" y1="532" x2="187.2" y2="532" stroke="#111" stroke-width="1.05" />
<line x1="181.5" y1="526.3" x2="181.5" y2="537.7" stroke="#111" stroke-width="1.05" />
<rect x="190.65" y="522.85" width="103.6" height="19.5" rx="3.4" ry="3.4" fill="#fff" stroke="#2F5597" stroke-width="1.3" />
<rect x="193.05" y="526" width="17.9" height="13.8" fill="#BDD7EE" />
<rect x="213.05" y="526" width="17.9" height="13.8" fill="#BDD7EE" />
<rect x="233.05" y="526" width="17.9" height="13.8" fill="#DEEBF7" />
<rect x="253.05" y="526" width="17.9" height="13.8" fill="#DEEBF7" />
<rect x="273.05" y="526" width="17.9" height="13.8" fill="#1F4E79" />
<line x1="298.7" y1="532" x2="310.1" y2="532" stroke="#111" stroke-width="1.05" />
<line x1="304.4" y1="526.3" x2="304.4" y2="537.7" stroke="#111" stroke-width="1.05" />
<rect x="311.75" y="522.85" width="104.1" height="19.5" rx="3.4" ry="3.4" fill="#fff" stroke="#9E5523" stroke-width="1.3" />
<rect x="315.1" y="526" width="17.9" height="13.8" fill="#F8CBAD" />
<rect x="335.1" y="526" width="17.9" height="13.8" fill="#FBE5D6" />
<rect x="355.1" y="526" width="17.9" height="13.8" fill="#F8CBAD" />
<rect x="375.1" y="526" width="17.9" height="13.8" fill="#C55A11" />
<rect x="395.1" y="526" width="17.9" height="13.8" fill="#843C0C" />
<line x1="420.2" y1="530.35" x2="431.9" y2="530.35" stroke="#111" stroke-width="1" />
<line x1="420.2" y1="533.65" x2="431.9" y2="533.65" stroke="#111" stroke-width="1" />
<rect x="433.5" y="522.85" width="103.55" height="19.5" rx="3.4" ry="3.4" fill="#fff" stroke="#404040" stroke-width="1.3" />
<rect x="436.1" y="526" width="17.9" height="13.8" fill="#F2F2F2" />
<rect x="456.1" y="526" width="17.9" height="13.8" fill="#A6A6A6" />
<rect x="476.1" y="526" width="17.9" height="13.8" fill="#F2F2F2" />
<rect x="496.1" y="526" width="17.9" height="13.8" fill="#7F7F7F" />
<rect x="516.1" y="526" width="17.9" height="13.8" fill="#7F7F7F" />
<circle cx="297.15" cy="420.9" r="1.2" fill="#000"/>
<circle cx="305.35" cy="420.9" r="1.2" fill="#000"/>
<circle cx="313.55" cy="420.9" r="1.2" fill="#000"/>
<text x="859.6" y="564.3" font-size="22" font-weight="bold" fill="#000" textLength="280" lengthAdjust="spacingAndGlyphs">Dynamic Graph Transformer</text>
<text x="622.6" y="273.2" font-size="14.67" text-anchor="middle" font-weight="normal" font-style="normal" fill="#000" >Input Node</text>
<text x="622.6" y="290.6" font-size="14.67" text-anchor="middle" font-weight="normal" font-style="normal" fill="#000" >Encoding</text>
<text x="786.6" y="270.4" font-size="14.67" text-anchor="middle" font-weight="normal" font-style="normal" fill="#000" >Transformer</text>
<text x="786.4" y="287.4" font-size="14.67" text-anchor="middle" font-weight="normal" font-style="normal" fill="#000" >Module</text>
<text x="934.6" y="270.4" font-size="14.67" text-anchor="middle" font-weight="normal" font-style="normal" fill="#000" >Node</text>
<text x="934.8" y="287.4" font-size="14.67" text-anchor="middle" font-weight="normal" font-style="normal" fill="#000" >Embedding</text>
<text x="1023.8" y="270.4" font-size="14.67" text-anchor="middle" font-weight="normal" font-style="normal" fill="#000" >Pooling</text>
<text x="1023.8" y="287.4" font-size="14.67" text-anchor="middle" font-weight="normal" font-style="normal" fill="#000" >Module</text>
<text x="1107.4" y="382" font-size="14.67" text-anchor="middle" font-weight="normal" font-style="normal" fill="#000" >Edge</text>
<text x="1107.2" y="399.4" font-size="14.67" text-anchor="middle" font-weight="normal" font-style="normal" fill="#000" >Embedding</text>
<rect x="674.3" y="293.3" width="229" height="254.3" rx="6" ry="6" fill="none" stroke="#BF9000" stroke-width="2.2" stroke-dasharray="0.01 3.62" stroke-linecap="round"/>
<rect x="970.2" y="291.9" width="100.7" height="253.9" rx="3" ry="3" fill="none" stroke="#2E75B6" stroke-width="2.2" stroke-dasharray="0.01 3.62" stroke-linecap="round"/>
<rect x="595.6" y="299.8" width="52.8" height="19.8" rx="3.4" ry="3.4" fill="#fff" stroke="#3b3b3b" stroke-width="1.4" />
<rect x="597.2" y="301.85" width="8.8" height="15.9" fill="#7F7F7F" />
<rect x="607.2" y="301.85" width="8.8" height="15.9" fill="#A6A6A6" />
<rect x="618.1" y="301.85" width="8.8" height="15.9" fill="#D9D9D9" />
<rect x="628.25" y="301.85" width="8.8" height="15.9" fill="#F2F2F2" />
<rect x="638.1" y="301.85" width="8.8" height="15.9" fill="#D9D9D9" />
<polygon points="653.9,306.1 665.1,306.1 665.1,302.95 671.8,309.25 665.1,315.55 665.1,312.4 653.9,312.4" fill="#BFBFBF"/>
<line x1="703.5" y1="308.6" x2="713" y2="308.6" stroke="#000" stroke-width="1.9" />
<line x1="734" y1="308.6" x2="745.3" y2="308.6" stroke="#000" stroke-width="1.9" />
<polygon points="742.3,305.1 749.8,308.6 742.3,312.1" fill="#000"/>
<line x1="772.4" y1="308.6" x2="800.1" y2="308.6" stroke="#000" stroke-width="1.9" stroke-dasharray="5.2 2.3"/>
<polygon points="797.1,305.1 804.6,308.6 797.1,312.1" fill="#000"/>
<line x1="827.6" y1="308.6" x2="836.5" y2="308.6" stroke="#000" stroke-width="1.9" />
<line x1="857" y1="308.6" x2="867.9" y2="308.6" stroke="#000" stroke-width="1.9" />
<polygon points="864.9,305.1 872.4,308.6 864.9,312.1" fill="#000"/>
<rect x="681.2" y="301.75" width="22.6" height="13.7" rx="3" ry="3" fill="url(#gbox)" stroke="#3b3b3b" stroke-width="1.4" />
<rect x="749.9" y="301.75" width="22.6" height="13.7" rx="3" ry="3" fill="url(#gbox)" stroke="#3b3b3b" stroke-width="1.4" />
<rect x="804.9" y="301.75" width="22.6" height="13.7" rx="3" ry="3" fill="url(#gbox)" stroke="#3b3b3b" stroke-width="1.4" />
<rect x="872.6" y="301.75" width="22.7" height="13.7" rx="3" ry="3" fill="url(#gbox)" stroke="#3b3b3b" stroke-width="1.4" />
<polygon points="909.2,306.1 920.1,306.1 920.1,302.95 926.8,309.25 920.1,315.55 920.1,312.4 909.2,312.4" fill="#BFBFBF"/>
<rect x="929.2" y="299.8" width="33" height="19.8" rx="3.4" ry="3.4" fill="#fff" stroke="#3b3b3b" stroke-width="1.4" />
<rect x="931.2" y="301.85" width="8.9" height="15.9" fill="#A6A6A6" />
<rect x="941" y="301.85" width="8.9" height="15.9" fill="#D9D9D9" />
<rect x="951.1" y="301.85" width="8.9" height="15.9" fill="#F2F2F2" />
<line x1="1000" y1="306.8" x2="1009" y2="306.8" stroke="#000" stroke-width="1.9" />
<rect x="977.5" y="299.95" width="22.1" height="13.7" rx="3" ry="3" fill="url(#gbox)" stroke="#3b3b3b" stroke-width="1.4" />
<rect x="595.6" y="329.4" width="52.8" height="19.8" rx="3.4" ry="3.4" fill="#fff" stroke="#3b3b3b" stroke-width="1.4" />
<rect x="597.2" y="331.45" width="8.8" height="15.9" fill="#A6A6A6" />
<rect x="607.2" y="331.45" width="8.8" height="15.9" fill="#7F7F7F" />
<rect x="618.1" y="331.45" width="8.8" height="15.9" fill="#D9D9D9" />
<rect x="628.25" y="331.45" width="8.8" height="15.9" fill="#F2F2F2" />
<rect x="638.1" y="331.45" width="8.8" height="15.9" fill="#F2F2F2" />
<polygon points="653.9,334.7 665.1,334.7 665.1,331.55 671.8,337.85 665.1,344.15 665.1,341 653.9,341" fill="#BFBFBF"/>
<line x1="703.5" y1="337.2" x2="713" y2="337.2" stroke="#000" stroke-width="1.9" />
<line x1="734" y1="337.2" x2="745.3" y2="337.2" stroke="#000" stroke-width="1.9" />
<polygon points="742.3,333.7 749.8,337.2 742.3,340.7" fill="#000"/>
<line x1="772.4" y1="337.2" x2="800.1" y2="337.2" stroke="#000" stroke-width="1.9" stroke-dasharray="5.2 2.3"/>
<polygon points="797.1,333.7 804.6,337.2 797.1,340.7" fill="#000"/>
<line x1="827.6" y1="337.2" x2="836.5" y2="337.2" stroke="#000" stroke-width="1.9" />
<line x1="857" y1="337.2" x2="867.9" y2="337.2" stroke="#000" stroke-width="1.9" />
<polygon points="864.9,333.7 872.4,337.2 864.9,340.7" fill="#000"/>
<rect x="681.2" y="330.35" width="22.6" height="13.7" rx="3" ry="3" fill="url(#gbox)" stroke="#3b3b3b" stroke-width="1.4" />
<rect x="749.9" y="330.35" width="22.6" height="13.7" rx="3" ry="3" fill="url(#gbox)" stroke="#3b3b3b" stroke-width="1.4" />
<rect x="804.9" y="330.35" width="22.6" height="13.7" rx="3" ry="3" fill="url(#gbox)" stroke="#3b3b3b" stroke-width="1.4" />
<rect x="872.6" y="330.35" width="22.7" height="13.7" rx="3" ry="3" fill="url(#gbox)" stroke="#3b3b3b" stroke-width="1.4" />
<polygon points="909.2,334.7 920.1,334.7 920.1,331.55 926.8,337.85 920.1,344.15 920.1,341 909.2,341" fill="#BFBFBF"/>
<rect x="929.2" y="329.4" width="33" height="19.8" rx="3.4" ry="3.4" fill="#fff" stroke="#3b3b3b" stroke-width="1.4" />
<rect x="931.2" y="331.45" width="8.9" height="15.9" fill="#7F7F7F" />
<rect x="941" y="331.45" width="8.9" height="15.9" fill="#D9D9D9" />
<rect x="951.1" y="331.45" width="8.9" height="15.9" fill="#F2F2F2" />
<line x1="1000" y1="335.4" x2="1009" y2="335.4" stroke="#000" stroke-width="1.9" />
<rect x="977.5" y="328.55" width="22.1" height="13.7" rx="3" ry="3" fill="url(#gbox)" stroke="#3b3b3b" stroke-width="1.4" />
<rect x="595.6" y="357.35" width="52.8" height="19.8" rx="3.4" ry="3.4" fill="#fff" stroke="#3b3b3b" stroke-width="1.4" />
<rect x="597.2" y="359.4" width="8.8" height="15.9" fill="#BFBFBF" />
<rect x="607.2" y="359.4" width="8.8" height="15.9" fill="#7F7F7F" />
<rect x="618.1" y="359.4" width="8.8" height="15.9" fill="#A6A6A6" />
<rect x="628.25" y="359.4" width="8.8" height="15.9" fill="#D9D9D9" />
<rect x="638.1" y="359.4" width="8.8" height="15.9" fill="#D9D9D9" />
<polygon points="653.9,363.2 665.1,363.2 665.1,360.05 671.8,366.35 665.1,372.65 665.1,369.5 653.9,369.5" fill="#BFBFBF"/>
<line x1="703.5" y1="365.7" x2="713" y2="365.7" stroke="#000" stroke-width="1.9" />
<line x1="734" y1="365.7" x2="745.3" y2="365.7" stroke="#000" stroke-width="1.9" />
<polygon points="742.3,362.2 749.8,365.7 742.3,369.2" fill="#000"/>
<line x1="772.4" y1="365.7" x2="800.1" y2="365.7" stroke="#000" stroke-width="1.9" stroke-dasharray="5.2 2.3"/>
<polygon points="797.1,362.2 804.6,365.7 797.1,369.2" fill="#000"/>
<line x1="827.6" y1="365.7" x2="836.5" y2="365.7" stroke="#000" stroke-width="1.9" />
<line x1="857" y1="365.7" x2="867.9" y2="365.7" stroke="#000" stroke-width="1.9" />
<polygon points="864.9,362.2 872.4,365.7 864.9,369.2" fill="#000"/>
<rect x="681.2" y="358.85" width="22.6" height="13.7" rx="3" ry="3" fill="url(#gbox)" stroke="#3b3b3b" stroke-width="1.4" />
<rect x="749.9" y="358.85" width="22.6" height="13.7" rx="3" ry="3" fill="url(#gbox)" stroke="#3b3b3b" stroke-width="1.4" />
<rect x="804.9" y="358.85" width="22.6" height="13.7" rx="3" ry="3" fill="url(#gbox)" stroke="#3b3b3b" stroke-width="1.4" />
<rect x="872.6" y="358.85" width="22.7" height="13.7" rx="3" ry="3" fill="url(#gbox)" stroke="#3b3b3b" stroke-width="1.4" />
<polygon points="909.2,363.2 920.1,363.2 920.1,360.05 926.8,366.35 920.1,372.65 920.1,369.5 909.2,369.5" fill="#BFBFBF"/>
<rect x="929.2" y="357.35" width="33" height="19.8" rx="3.4" ry="3.4" fill="#fff" stroke="#3b3b3b" stroke-width="1.4" />
<rect x="931.2" y="359.4" width="8.9" height="15.9" fill="#7F7F7F" />
<rect x="941" y="359.4" width="8.9" height="15.9" fill="#A6A6A6" />
<rect x="951.1" y="359.4" width="8.9" height="15.9" fill="#D9D9D9" />
<line x1="1000" y1="363.85" x2="1009" y2="363.85" stroke="#000" stroke-width="1.9" />
<rect x="977.5" y="357" width="22.1" height="13.7" rx="3" ry="3" fill="url(#gbox)" stroke="#3b3b3b" stroke-width="1.4" />
<rect x="595.6" y="384.9" width="52.8" height="19.8" rx="3.4" ry="3.4" fill="#fff" stroke="#3b3b3b" stroke-width="1.4" />
<rect x="597.2" y="386.95" width="8.8" height="15.9" fill="#BFBFBF" />
<rect x="607.2" y="386.95" width="8.8" height="15.9" fill="#A6A6A6" />
<rect x="618.1" y="386.95" width="8.8" height="15.9" fill="#7F7F7F" />
<rect x="628.25" y="386.95" width="8.8" height="15.9" fill="#A6A6A6" />
<rect x="638.1" y="386.95" width="8.8" height="15.9" fill="#F2F2F2" />
<polygon points="653.9,391.7 665.1,391.7 665.1,388.55 671.8,394.85 665.1,401.15 665.1,398 653.9,398" fill="#BFBFBF"/>
<line x1="703.5" y1="394.2" x2="713" y2="394.2" stroke="#000" stroke-width="1.9" />
<line x1="734" y1="394.2" x2="745.3" y2="394.2" stroke="#000" stroke-width="1.9" />
<polygon points="742.3,390.7 749.8,394.2 742.3,397.7" fill="#000"/>
<line x1="772.4" y1="394.2" x2="800.1" y2="394.2" stroke="#000" stroke-width="1.9" stroke-dasharray="5.2 2.3"/>
<polygon points="797.1,390.7 804.6,394.2 797.1,397.7" fill="#000"/>
<line x1="827.6" y1="394.2" x2="836.5" y2="394.2" stroke="#000" stroke-width="1.9" />
<line x1="857" y1="394.2" x2="867.9" y2="394.2" stroke="#000" stroke-width="1.9" />
<polygon points="864.9,390.7 872.4,394.2 864.9,397.7" fill="#000"/>
<rect x="681.2" y="387.35" width="22.6" height="13.7" rx="3" ry="3" fill="url(#gbox)" stroke="#3b3b3b" stroke-width="1.4" />
<rect x="749.9" y="387.35" width="22.6" height="13.7" rx="3" ry="3" fill="url(#gbox)" stroke="#3b3b3b" stroke-width="1.4" />
<rect x="804.9" y="387.35" width="22.6" height="13.7" rx="3" ry="3" fill="url(#gbox)" stroke="#3b3b3b" stroke-width="1.4" />
<rect x="872.6" y="387.35" width="22.7" height="13.7" rx="3" ry="3" fill="url(#gbox)" stroke="#3b3b3b" stroke-width="1.4" />
<polygon points="909.2,391.7 920.1,391.7 920.1,388.55 926.8,394.85 920.1,401.15 920.1,398 909.2,398" fill="#BFBFBF"/>
<rect x="929.2" y="384.9" width="33" height="19.8" rx="3.4" ry="3.4" fill="#fff" stroke="#3b3b3b" stroke-width="1.4" />
<rect x="931.2" y="386.95" width="8.9" height="15.9" fill="#A6A6A6" />
<rect x="941" y="386.95" width="8.9" height="15.9" fill="#7F7F7F" />
<rect x="951.1" y="386.95" width="8.9" height="15.9" fill="#A6A6A6" />
<line x1="1000" y1="392.4" x2="1009" y2="392.4" stroke="#000" stroke-width="1.9" />
<rect x="977.5" y="385.55" width="22.1" height="13.7" rx="3" ry="3" fill="url(#gbox)" stroke="#3b3b3b" stroke-width="1.4" />
<rect x="595.6" y="436.9" width="52.8" height="19.8" rx="3.4" ry="3.4" fill="#fff" stroke="#3b3b3b" stroke-width="1.4" />
<rect x="597.2" y="438.95" width="8.8" height="15.9" fill="#7F7F7F" />
<rect x="607.2" y="438.95" width="8.8" height="15.9" fill="#BFBFBF" />
<rect x="618.1" y="438.95" width="8.8" height="15.9" fill="#F2F2F2" />
<rect x="628.25" y="438.95" width="8.8" height="15.9" fill="#D9D9D9" />
<rect x="638.1" y="438.95" width="8.8" height="15.9" fill="#7F7F7F" />
<polygon points="653.9,443.7 665.1,443.7 665.1,440.55 671.8,446.85 665.1,453.15 665.1,450 653.9,450" fill="#BFBFBF"/>
<line x1="703.5" y1="446.2" x2="713" y2="446.2" stroke="#000" stroke-width="1.9" />
<line x1="734" y1="446.2" x2="745.3" y2="446.2" stroke="#000" stroke-width="1.9" />
<polygon points="742.3,442.7 749.8,446.2 742.3,449.7" fill="#000"/>
<line x1="772.4" y1="446.2" x2="800.1" y2="446.2" stroke="#000" stroke-width="1.9" stroke-dasharray="5.2 2.3"/>
<polygon points="797.1,442.7 804.6,446.2 797.1,449.7" fill="#000"/>
<line x1="827.6" y1="446.2" x2="836.5" y2="446.2" stroke="#000" stroke-width="1.9" />
<line x1="857" y1="446.2" x2="867.9" y2="446.2" stroke="#000" stroke-width="1.9" />
<polygon points="864.9,442.7 872.4,446.2 864.9,449.7" fill="#000"/>
<rect x="681.2" y="439.35" width="22.6" height="13.7" rx="3" ry="3" fill="url(#gbox)" stroke="#3b3b3b" stroke-width="1.4" />
<rect x="749.9" y="439.35" width="22.6" height="13.7" rx="3" ry="3" fill="url(#gbox)" stroke="#3b3b3b" stroke-width="1.4" />
<rect x="804.9" y="439.35" width="22.6" height="13.7" rx="3" ry="3" fill="url(#gbox)" stroke="#3b3b3b" stroke-width="1.4" />
<rect x="872.6" y="439.35" width="22.7" height="13.7" rx="3" ry="3" fill="url(#gbox)" stroke="#3b3b3b" stroke-width="1.4" />
<polygon points="909.2,443.7 920.1,443.7 920.1,440.55 926.8,446.85 920.1,453.15 920.1,450 909.2,450" fill="#BFBFBF"/>
<rect x="929.2" y="436.9" width="33" height="19.8" rx="3.4" ry="3.4" fill="#fff" stroke="#3b3b3b" stroke-width="1.4" />
<rect x="931.2" y="438.95" width="8.9" height="15.9" fill="#BFBFBF" />
<rect x="941" y="438.95" width="8.9" height="15.9" fill="#F2F2F2" />
<rect x="951.1" y="438.95" width="8.9" height="15.9" fill="#D9D9D9" />
<line x1="1000" y1="444.5" x2="1009" y2="444.5" stroke="#000" stroke-width="1.9" />
<rect x="977.5" y="437.65" width="22.1" height="13.7" rx="3" ry="3" fill="url(#gbox)" stroke="#3b3b3b" stroke-width="1.4" />
<rect x="595.6" y="466.3" width="52.8" height="19.8" rx="3.4" ry="3.4" fill="#fff" stroke="#3b3b3b" stroke-width="1.4" />
<rect x="597.2" y="468.35" width="8.8" height="15.9" fill="#D9D9D9" />
<rect x="607.2" y="468.35" width="8.8" height="15.9" fill="#D9D9D9" />
<rect x="618.1" y="468.35" width="8.8" height="15.9" fill="#7F7F7F" />
<rect x="628.25" y="468.35" width="8.8" height="15.9" fill="#BFBFBF" />
<rect x="638.1" y="468.35" width="8.8" height="15.9" fill="#D9D9D9" />
<polygon points="653.9,472.2 665.1,472.2 665.1,469.05 671.8,475.35 665.1,481.65 665.1,478.5 653.9,478.5" fill="#BFBFBF"/>
<line x1="703.5" y1="474.7" x2="713" y2="474.7" stroke="#000" stroke-width="1.9" />
<line x1="734" y1="474.7" x2="745.3" y2="474.7" stroke="#000" stroke-width="1.9" />
<polygon points="742.3,471.2 749.8,474.7 742.3,478.2" fill="#000"/>
<line x1="772.4" y1="474.7" x2="800.1" y2="474.7" stroke="#000" stroke-width="1.9" stroke-dasharray="5.2 2.3"/>
<polygon points="797.1,471.2 804.6,474.7 797.1,478.2" fill="#000"/>
<line x1="827.6" y1="474.7" x2="836.5" y2="474.7" stroke="#000" stroke-width="1.9" />
<line x1="857" y1="474.7" x2="867.9" y2="474.7" stroke="#000" stroke-width="1.9" />
<polygon points="864.9,471.2 872.4,474.7 864.9,478.2" fill="#000"/>
<rect x="681.2" y="467.85" width="22.6" height="13.7" rx="3" ry="3" fill="url(#gbox)" stroke="#3b3b3b" stroke-width="1.4" />
<rect x="749.9" y="467.85" width="22.6" height="13.7" rx="3" ry="3" fill="url(#gbox)" stroke="#3b3b3b" stroke-width="1.4" />
<rect x="804.9" y="467.85" width="22.6" height="13.7" rx="3" ry="3" fill="url(#gbox)" stroke="#3b3b3b" stroke-width="1.4" />
<rect x="872.6" y="467.85" width="22.7" height="13.7" rx="3" ry="3" fill="url(#gbox)" stroke="#3b3b3b" stroke-width="1.4" />
<polygon points="909.2,472.2 920.1,472.2 920.1,469.05 926.8,475.35 920.1,481.65 920.1,478.5 909.2,478.5" fill="#BFBFBF"/>
<rect x="929.2" y="466.3" width="33" height="19.8" rx="3.4" ry="3.4" fill="#fff" stroke="#3b3b3b" stroke-width="1.4" />
<rect x="931.2" y="468.35" width="8.9" height="15.9" fill="#D9D9D9" />
<rect x="941" y="468.35" width="8.9" height="15.9" fill="#7F7F7F" />
<rect x="951.1" y="468.35" width="8.9" height="15.9" fill="#BFBFBF" />
<line x1="1000" y1="472.9" x2="1009" y2="472.9" stroke="#000" stroke-width="1.9" />
<rect x="977.5" y="466.05" width="22.1" height="13.7" rx="3" ry="3" fill="url(#gbox)" stroke="#3b3b3b" stroke-width="1.4" />
<rect x="595.6" y="494.5" width="52.8" height="19.8" rx="3.4" ry="3.4" fill="#fff" stroke="#3b3b3b" stroke-width="1.4" />
<rect x="597.2" y="496.55" width="8.8" height="15.9" fill="#D9D9D9" />
<rect x="607.2" y="496.55" width="8.8" height="15.9" fill="#D9D9D9" />
<rect x="618.1" y="496.55" width="8.8" height="15.9" fill="#7F7F7F" />
<rect x="628.25" y="496.55" width="8.8" height="15.9" fill="#BFBFBF" />
<rect x="638.1" y="496.55" width="8.8" height="15.9" fill="#F2F2F2" />
<polygon points="653.9,500.7 665.1,500.7 665.1,497.55 671.8,503.85 665.1,510.15 665.1,507 653.9,507" fill="#BFBFBF"/>
<line x1="703.5" y1="503.2" x2="713" y2="503.2" stroke="#000" stroke-width="1.9" />
<line x1="734" y1="503.2" x2="745.3" y2="503.2" stroke="#000" stroke-width="1.9" />
<polygon points="742.3,499.7 749.8,503.2 742.3,506.7" fill="#000"/>
<line x1="772.4" y1="503.2" x2="800.1" y2="503.2" stroke="#000" stroke-width="1.9" stroke-dasharray="5.2 2.3"/>
<polygon points="797.1,499.7 804.6,503.2 797.1,506.7" fill="#000"/>
<line x1="827.6" y1="503.2" x2="836.5" y2="503.2" stroke="#000" stroke-width="1.9" />
<line x1="857" y1="503.2" x2="867.9" y2="503.2" stroke="#000" stroke-width="1.9" />
<polygon points="864.9,499.7 872.4,503.2 864.9,506.7" fill="#000"/>
<rect x="681.2" y="496.35" width="22.6" height="13.7" rx="3" ry="3" fill="url(#gbox)" stroke="#3b3b3b" stroke-width="1.4" />
<rect x="749.9" y="496.35" width="22.6" height="13.7" rx="3" ry="3" fill="url(#gbox)" stroke="#3b3b3b" stroke-width="1.4" />
<rect x="804.9" y="496.35" width="22.6" height="13.7" rx="3" ry="3" fill="url(#gbox)" stroke="#3b3b3b" stroke-width="1.4" />
<rect x="872.6" y="496.35" width="22.7" height="13.7" rx="3" ry="3" fill="url(#gbox)" stroke="#3b3b3b" stroke-width="1.4" />
<polygon points="909.2,500.7 920.1,500.7 920.1,497.55 926.8,503.85 920.1,510.15 920.1,507 909.2,507" fill="#BFBFBF"/>
<rect x="929.2" y="494.5" width="33" height="19.8" rx="3.4" ry="3.4" fill="#fff" stroke="#3b3b3b" stroke-width="1.4" />
<rect x="931.2" y="496.55" width="8.9" height="15.9" fill="#D9D9D9" />
<rect x="941" y="496.55" width="8.9" height="15.9" fill="#7F7F7F" />
<rect x="951.1" y="496.55" width="8.9" height="15.9" fill="#BFBFBF" />
<line x1="1000" y1="501.5" x2="1009" y2="501.5" stroke="#000" stroke-width="1.9" />
<rect x="977.5" y="494.65" width="22.1" height="13.7" rx="3" ry="3" fill="url(#gbox)" stroke="#3b3b3b" stroke-width="1.4" />
<rect x="595.6" y="522" width="52.8" height="19.8" rx="3.4" ry="3.4" fill="#fff" stroke="#3b3b3b" stroke-width="1.4" />
<rect x="597.2" y="524.05" width="8.8" height="15.9" fill="#F2F2F2" />
<rect x="607.2" y="524.05" width="8.8" height="15.9" fill="#A6A6A6" />
<rect x="618.1" y="524.05" width="8.8" height="15.9" fill="#F2F2F2" />
<rect x="628.25" y="524.05" width="8.8" height="15.9" fill="#7F7F7F" />
<rect x="638.1" y="524.05" width="8.8" height="15.9" fill="#7F7F7F" />
<polygon points="653.9,529.2 665.1,529.2 665.1,526.05 671.8,532.35 665.1,538.65 665.1,535.5 653.9,535.5" fill="#BFBFBF"/>
<line x1="703.5" y1="531.7" x2="713" y2="531.7" stroke="#000" stroke-width="1.9" />
<line x1="734" y1="531.7" x2="745.3" y2="531.7" stroke="#000" stroke-width="1.9" />
<polygon points="742.3,528.2 749.8,531.7 742.3,535.2" fill="#000"/>
<line x1="772.4" y1="531.7" x2="800.1" y2="531.7" stroke="#000" stroke-width="1.9" stroke-dasharray="5.2 2.3"/>
<polygon points="797.1,528.2 804.6,531.7 797.1,535.2" fill="#000"/>
<line x1="827.6" y1="531.7" x2="836.5" y2="531.7" stroke="#000" stroke-width="1.9" />
<line x1="857" y1="531.7" x2="867.9" y2="531.7" stroke="#000" stroke-width="1.9" />
<polygon points="864.9,528.2 872.4,531.7 864.9,535.2" fill="#000"/>
<rect x="681.2" y="524.85" width="22.6" height="13.7" rx="3" ry="3" fill="url(#gbox)" stroke="#3b3b3b" stroke-width="1.4" />
<rect x="749.9" y="524.85" width="22.6" height="13.7" rx="3" ry="3" fill="url(#gbox)" stroke="#3b3b3b" stroke-width="1.4" />
<rect x="804.9" y="524.85" width="22.6" height="13.7" rx="3" ry="3" fill="url(#gbox)" stroke="#3b3b3b" stroke-width="1.4" />
<rect x="872.6" y="524.85" width="22.7" height="13.7" rx="3" ry="3" fill="url(#gbox)" stroke="#3b3b3b" stroke-width="1.4" />
<polygon points="909.2,529.2 920.1,529.2 920.1,526.05 926.8,532.35 920.1,538.65 920.1,535.5 909.2,535.5" fill="#BFBFBF"/>
<rect x="929.2" y="522" width="33" height="19.8" rx="3.4" ry="3.4" fill="#fff" stroke="#3b3b3b" stroke-width="1.4" />
<rect x="931.2" y="524.05" width="8.9" height="15.9" fill="#A6A6A6" />
<rect x="941" y="524.05" width="8.9" height="15.9" fill="#F2F2F2" />
<rect x="951.1" y="524.05" width="8.9" height="15.9" fill="#7F7F7F" />
<line x1="1000" y1="530" x2="1009" y2="530" stroke="#000" stroke-width="1.9" />
<rect x="977.5" y="523.15" width="22.1" height="13.7" rx="3" ry="3" fill="url(#gbox)" stroke="#3b3b3b" stroke-width="1.4" />
<rect x="712.65" y="300.4" width="21.25" height="238.8" rx="0" ry="0" fill="url(#gyel)" stroke="#FFC000" stroke-width="1" />
<text transform="translate(718.38,420.8) rotate(90)" font-size="14.8" text-anchor="middle" fill="#000">Multi-head Attention</text>
<rect x="836.3" y="300.4" width="20.5" height="238.8" rx="0" ry="0" fill="url(#gyel)" stroke="#FFC000" stroke-width="1" />
<text transform="translate(841.65,420.8) rotate(90)" font-size="14.8" text-anchor="middle" fill="#000">Multi-head Attention</text>
<rect x="1008.5" y="298.5" width="22.2" height="239.1" rx="0" ry="0" fill="url(#gblue)" stroke="#7A8FD0" stroke-width="1" />
<text transform="translate(1014.7,418.8) rotate(90)" font-size="14.8" text-anchor="middle" fill="#000">Mean Pooling</text>
<circle cx="612.8" cy="420.9" r="1.2" fill="#000"/>
<circle cx="621" cy="420.9" r="1.2" fill="#000"/>
<circle cx="629.2" cy="420.9" r="1.2" fill="#000"/>
<circle cx="936.2" cy="420.9" r="1.2" fill="#000"/>
<circle cx="944.4" cy="420.9" r="1.2" fill="#000"/>
<circle cx="952.6" cy="420.9" r="1.2" fill="#000"/>
<circle cx="687.9" cy="420.9" r="0.85" fill="#000"/>
<circle cx="693.3" cy="420.9" r="0.85" fill="#000"/>
<circle cx="698.7" cy="420.9" r="0.85" fill="#000"/>
<circle cx="756.8" cy="420.9" r="0.85" fill="#000"/>
<circle cx="762.2" cy="420.9" r="0.85" fill="#000"/>
<circle cx="767.6" cy="420.9" r="0.85" fill="#000"/>
<circle cx="811.2" cy="420.9" r="0.85" fill="#000"/>
<circle cx="816.6" cy="420.9" r="0.85" fill="#000"/>
<circle cx="822" cy="420.9" r="0.85" fill="#000"/>
<circle cx="879.7" cy="420.9" r="0.85" fill="#000"/>
<circle cx="885.1" cy="420.9" r="0.85" fill="#000"/>
<circle cx="890.5" cy="420.9" r="0.85" fill="#000"/>
<circle cx="984.2" cy="419.6" r="0.85" fill="#000"/>
<circle cx="989.6" cy="419.6" r="0.85" fill="#000"/>
<circle cx="995" cy="419.6" r="0.85" fill="#000"/>
<line x1="1030.8" y1="418.3" x2="1038.3" y2="418.3" stroke="#000" stroke-width="1.9" />
<polygon points="1035.3,414.8 1042.8,418.3 1035.3,421.8" fill="#000"/>
<rect x="1043" y="411.45" width="22.7" height="13.7" rx="3" ry="3" fill="url(#gbox)" stroke="#3b3b3b" stroke-width="1.4" />
<polygon points="1074.3,415.15 1085.2,415.15 1085.2,412 1091.9,418.3 1085.2,424.6 1085.2,421.45 1074.3,421.45" fill="#BFBFBF"/>
<rect x="1094.3" y="407.4" width="32.6" height="19.8" rx="3.4" ry="3.4" fill="#fff" stroke="#3b3b3b" stroke-width="1.4" />
<rect x="1096.3" y="409.45" width="8.9" height="15.9" fill="#D9D9D9" />
<rect x="1106.1" y="409.45" width="8.9" height="15.9" fill="#7F7F7F" />
<rect x="1116.2" y="409.45" width="8.9" height="15.9" fill="#A6A6A6" />
<text x="821.6" y="29.9" font-size="22" font-weight="bold" fill="#000" textLength="315.2" lengthAdjust="spacingAndGlyphs">Discriminative Anomaly Detector</text>
<rect x="609.2" y="10.9" width="84.2" height="84.2" rx="6.5" ry="6.5" fill="#fff" stroke="#1a1a1a" stroke-width="1.2" />
<rect x="609.2" y="131.6" width="84.2" height="83.7" rx="6.5" ry="6.5" fill="#fff" stroke="#1a1a1a" stroke-width="1.2" />
<line x1="621.8" y1="24.1" x2="627.5" y2="43.5" stroke="#000" stroke-width="1.9" stroke-linecap="round"/>
<line x1="621.8" y1="24.1" x2="650.4" y2="50.6" stroke="#000" stroke-width="1.9" stroke-linecap="round"/>
<line x1="642" y1="22" x2="660.7" y2="32.9" stroke="#000" stroke-width="1.9" stroke-linecap="round"/>
<line x1="679.1" y1="20.7" x2="660.7" y2="32.9" stroke="#000" stroke-width="1.9" stroke-linecap="round"/>
<line x1="660.7" y1="32.9" x2="650.4" y2="50.6" stroke="#000" stroke-width="1.9" stroke-linecap="round"/>
<line x1="660.7" y1="32.9" x2="680.1" y2="50.5" stroke="#000" stroke-width="1.9" stroke-linecap="round"/>
<line x1="650.4" y1="50.6" x2="639.8" y2="64.3" stroke="#000" stroke-width="1.9" stroke-linecap="round"/>
<line x1="680.1" y1="50.5" x2="664.4" y2="70.2" stroke="#000" stroke-width="1.9" stroke-linecap="round"/>
<line x1="639.8" y1="64.3" x2="664.4" y2="70.2" stroke="#000" stroke-width="1.9" stroke-linecap="round"/>
<line x1="639.8" y1="64.3" x2="621.3" y2="73.6" stroke="#000" stroke-width="1.9" stroke-linecap="round"/>
<line x1="639.8" y1="64.3" x2="639.4" y2="86.5" stroke="#000" stroke-width="1.9" stroke-linecap="round"/>
<line x1="664.4" y1="70.2" x2="675.7" y2="86.5" stroke="#000" stroke-width="1.9" stroke-linecap="round"/>
<line x1="650.4" y1="50.6" x2="664.4" y2="70.2" stroke="#C55A11" stroke-width="3.5" />
<circle cx="621.8" cy="24.1" r="4.3" fill="#767171"/>
<circle cx="642" cy="22" r="4.3" fill="#767171"/>
<circle cx="679.1" cy="20.7" r="4.3" fill="#767171"/>
<circle cx="660.7" cy="32.9" r="4.3" fill="#A9D18E"/>
<circle cx="627.5" cy="43.5" r="4.3" fill="#767171"/>
<circle cx="650.4" cy="50.6" r="4.3" fill="#FFD966"/>
<circle cx="680.1" cy="50.5" r="4.3" fill="#A9D18E"/>
<circle cx="639.8" cy="64.3" r="4.3" fill="#A9D18E"/>
<circle cx="664.4" cy="70.2" r="4.3" fill="#FFD966"/>
<circle cx="621.3" cy="73.6" r="4.3" fill="#767171"/>
<circle cx="639.4" cy="86.5" r="4.3" fill="#767171"/>
<circle cx="675.7" cy="86.5" r="4.3" fill="#767171"/>
<line x1="622" y1="145" x2="627.7" y2="164.6" stroke="#000" stroke-width="1.9" stroke-linecap="round"/>
<line x1="622" y1="145" x2="650.6" y2="171.1" stroke="#000" stroke-width="1.9" stroke-linecap="round"/>
<line x1="642.2" y1="142.6" x2="660.9" y2="153.8" stroke="#000" stroke-width="1.9" stroke-linecap="round"/>
<line x1="679.3" y1="141.9" x2="660.9" y2="153.8" stroke="#000" stroke-width="1.9" stroke-linecap="round"/>
<line x1="660.9" y1="153.8" x2="650.6" y2="171.1" stroke="#000" stroke-width="1.9" stroke-linecap="round"/>
<line x1="660.9" y1="153.8" x2="680.3" y2="171.1" stroke="#000" stroke-width="1.9" stroke-linecap="round"/>
<line x1="650.6" y1="171.1" x2="639.7" y2="185" stroke="#000" stroke-width="1.9" stroke-linecap="round"/>
<line x1="680.3" y1="171.1" x2="664.3" y2="191.1" stroke="#000" stroke-width="1.9" stroke-linecap="round"/>
<line x1="639.7" y1="185" x2="664.3" y2="191.1" stroke="#000" stroke-width="1.9" stroke-linecap="round"/>
<line x1="639.7" y1="185" x2="621.5" y2="194.4" stroke="#000" stroke-width="1.9" stroke-linecap="round"/>
<line x1="639.7" y1="185" x2="639.6" y2="207.2" stroke="#000" stroke-width="1.9" stroke-linecap="round"/>
<line x1="664.3" y1="191.1" x2="675.9" y2="207.2" stroke="#000" stroke-width="1.9" stroke-linecap="round"/>
<line x1="650.6" y1="171.1" x2="664.3" y2="191.1" stroke="#000" stroke-width="1.9" stroke-linecap="round"/>
<line x1="677.9" y1="146.5" x2="665.4" y2="187.4" stroke="#C55A11" stroke-width="3.2" stroke-dasharray="3.3 3.7"/>
<circle cx="622" cy="145" r="4.3" fill="#767171"/>
<circle cx="642.2" cy="142.6" r="4.3" fill="#767171"/>
<circle cx="679.3" cy="141.9" r="4.3" fill="#FFD966"/>
<circle cx="660.9" cy="153.8" r="4.3" fill="#A9D18E"/>
<circle cx="627.7" cy="164.6" r="4.3" fill="#767171"/>
<circle cx="650.6" cy="171.1" r="4.3" fill="#A9D18E"/>
<circle cx="680.3" cy="171.1" r="4.3" fill="#A9D18E"/>
<circle cx="639.7" cy="185" r="4.3" fill="#767171"/>
<circle cx="664.3" cy="191.1" r="4.3" fill="#FFD966"/>
<circle cx="621.5" cy="194.4" r="4.3" fill="#767171"/>
<circle cx="639.6" cy="207.2" r="4.3" fill="#767171"/>
<circle cx="675.9" cy="207.2" r="4.3" fill="#767171"/>
<text x="612.4" y="108.6" font-size="14.67" text-anchor="middle" font-weight="normal" font-style="normal" fill="#000" >Negative</text>
<text x="612.6" y="125.8" font-size="14.67" text-anchor="middle" font-weight="normal" font-style="normal" fill="#000" >Sampling</text>
<polygon points="647.15,98.4 655.45,98.4 655.45,119.2 659.4,119.2 651.3,127.8 643.2,119.2 647.15,119.2" fill="#BFBFBF"/>
<text x="751.8" y="44.8" font-size="14.67" text-anchor="middle" font-weight="normal" font-style="normal" fill="#000" >Positive Edge</text>
<text x="751.8" y="61.5" font-size="14.67" text-anchor="middle" font-weight="normal" font-style="normal" fill="#000" >Embedding</text>
<text x="753.6" y="175.1" font-size="14.67" text-anchor="middle" font-weight="normal" font-style="normal" fill="#000" >Negative Edge</text>
<text x="753.4" y="192" font-size="14.67" text-anchor="middle" font-weight="normal" font-style="normal" fill="#000" >Embedding</text>
<polygon points="698.8,74.7 720,74.7 720,70.55 728.4,78.9 720,87.25 720,83.1 698.8,83.1" fill="#BFBFBF"/>
<rect x="732.9" y="69.3" width="32.8" height="19.6" rx="3.4" ry="3.4" fill="#fff" stroke="#3b3b3b" stroke-width="1.4" />
<rect x="735.2" y="71.3" width="8.8" height="15.8" fill="#D9D9D9" />
<rect x="745.1" y="71.3" width="8.8" height="15.8" fill="#7F7F7F" />
<rect x="755.2" y="71.3" width="8.8" height="15.8" fill="#A6A6A6" />
<polygon points="776.3,72.9 815.9,72.9 815.9,68.7 824.3,77.1 815.9,85.5 815.9,81.3 776.3,81.3" fill="#BFBFBF"/>
<polygon points="698.8,144.5 720,144.5 720,140.35 728.4,148.7 720,157.05 720,152.9 698.8,152.9" fill="#BFBFBF"/>
<rect x="732.9" y="138.2" width="32.8" height="19.6" rx="3.4" ry="3.4" fill="#fff" stroke="#3b3b3b" stroke-width="1.4" />
<rect x="735.2" y="140.2" width="8.8" height="15.8" fill="#D9D9D9" />
<rect x="745.1" y="140.2" width="8.8" height="15.8" fill="#F2F2F2" />
<rect x="755.2" y="140.2" width="8.8" height="15.8" fill="#D9D9D9" />
<polygon points="776.3,142.9 815.9,142.9 815.9,138.7 824.3,147.1 815.9,155.5 815.9,151.3 776.3,151.3" fill="#BFBFBF"/>
<rect x="829.4" y="49" width="99.7" height="130.2" rx="3.5" ry="3.5" fill="none" stroke="#C55A11" stroke-width="2.2" stroke-dasharray="0.01 3.62" stroke-linecap="round"/>
<line x1="860.1" y1="76.5" x2="870" y2="76.5" stroke="#000" stroke-width="1.9" />
<line x1="890.5" y1="76.5" x2="902.4" y2="76.5" stroke="#000" stroke-width="1.9" />
<polygon points="899.4,73 906.9,76.5 899.4,80" fill="#000"/>
<rect x="838.1" y="69.65" width="22.6" height="13.7" rx="3" ry="3" fill="url(#gbox)" stroke="#3b3b3b" stroke-width="1.4" />
<rect x="907" y="69.65" width="14" height="13.7" rx="3" ry="3" fill="url(#gbox)" stroke="#3b3b3b" stroke-width="1.4" />
<line x1="861.3" y1="146.4" x2="870" y2="146.4" stroke="#000" stroke-width="1.9" />
<line x1="890.5" y1="146.4" x2="902.4" y2="146.4" stroke="#000" stroke-width="1.9" />
<polygon points="899.4,142.9 906.9,146.4 899.4,149.9" fill="#000"/>
<rect x="839.3" y="139.55" width="22.6" height="13.7" rx="3" ry="3" fill="url(#gbox)" stroke="#3b3b3b" stroke-width="1.4" />
<rect x="907" y="139.55" width="14" height="13.7" rx="3" ry="3" fill="url(#gbox)" stroke="#3b3b3b" stroke-width="1.4" />
<rect x="869.6" y="56.9" width="21.3" height="111.6" rx="0" ry="0" fill="url(#gfc)" stroke="#ED7D31" stroke-width="1" />
<text transform="translate(875.5,113.6) rotate(90)" font-size="14.8" text-anchor="middle" fill="#000">Fully Connected</text>
<text x="882.2" y="195.2" font-size="14.67" text-anchor="middle" font-weight="normal" font-style="normal" fill="#000" >Scoring</text>
<text x="882.2" y="212.4" font-size="14.67" text-anchor="middle" font-weight="normal" font-style="normal" fill="#000" >Module</text>
<polygon points="936.2,70.85 957.3,70.85 957.3,66.85 966.2,75.15 957.3,83.45 957.3,79.45 936.2,79.45" fill="#BFBFBF"/>
<rect x="970.85" y="61.05" width="44.3" height="28.2" rx="5" ry="5" fill="url(#gscore)" stroke="#3b3b3b" stroke-width="1.3" />
<text x="975.0" y="82.65" font-size="23" textLength="38.4" lengthAdjust="spacingAndGlyphs" fill="#000">0.83</text>
<polygon points="1022.6,75.15 1031.5,66.85 1031.5,70.85 1063.2,70.85 1063.2,66.85 1072.1,75.15 1063.2,83.45 1063.2,79.45 1031.5,79.45 1031.5,83.45" fill="#BFBFBF"/>
<rect x="1076" y="61.05" width="44.2" height="28.2" rx="5" ry="5" fill="url(#glabel)" stroke="#5B8F3A" stroke-width="1.3" />
<text x="1099.4" y="82.65" font-size="23" text-anchor="middle" font-weight="normal" font-style="normal" fill="#000" >1</text>
<polygon points="936.2,142.4 957.3,142.4 957.3,138.4 966.2,146.7 957.3,155 957.3,151 936.2,151" fill="#BFBFBF"/>
<rect x="970.85" y="132.6" width="44.3" height="28.2" rx="5" ry="5" fill="url(#gscore)" stroke="#3b3b3b" stroke-width="1.3" />
<text x="975.0" y="154.2" font-size="23" textLength="38.4" lengthAdjust="spacingAndGlyphs" fill="#000">0.37</text>
<polygon points="1022.6,146.7 1031.5,138.4 1031.5,142.4 1063.2,142.4 1063.2,138.4 1072.1,146.7 1063.2,155 1063.2,151 1031.5,151 1031.5,155" fill="#BFBFBF"/>
<rect x="1076" y="132.6" width="44.2" height="28.2" rx="5" ry="5" fill="url(#glabel)" stroke="#5B8F3A" stroke-width="1.3" />
<text x="1099.4" y="154.2" font-size="23" text-anchor="middle" font-weight="normal" font-style="normal" fill="#000" >0</text>
<text x="992.4" y="106.3" font-size="14.67" text-anchor="middle" font-weight="normal" font-style="normal" fill="#000" >Anomaly</text>
<text x="992" y="123.6" font-size="14.67" text-anchor="middle" font-weight="normal" font-style="normal" fill="#000" >Score</text>
<text x="1045.8" y="106.3" font-size="14.67" text-anchor="middle" font-weight="normal" font-style="normal" fill="#000" >BCE</text>
<text x="1045.6" y="123.6" font-size="14.67" text-anchor="middle" font-weight="normal" font-style="normal" fill="#000" >Loss</text>
<text x="1098.2" y="106.3" font-size="14.67" text-anchor="middle" font-weight="normal" font-style="normal" fill="#000" >Pseudo</text>
<text x="1098.6" y="123.6" font-size="14.67" text-anchor="middle" font-weight="normal" font-style="normal" fill="#000" >Label</text>
<text x="1015.8" y="566.7" font-size="17.6" fill="#fff" fill-opacity="0.72" stroke="#5a5a5a" stroke-opacity="0.85" stroke-width="0.45" font-family="'WenQuanYi Zen Hei', 'Noto Sans CJK SC', 'Liberation Sans', sans-serif">CSDN @阿宇狮子</text>
</svg></body></html>
